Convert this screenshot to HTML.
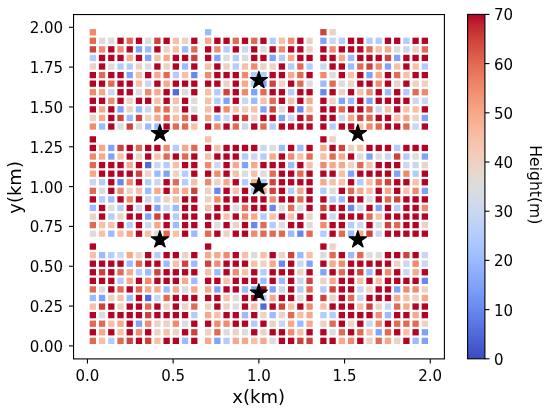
<!DOCTYPE html>
<html><head><meta charset="utf-8"><style>
html,body{margin:0;padding:0;background:#fff;}
svg{display:block;}
text{font-family:"DejaVu Sans","Liberation Sans",sans-serif;font-size:15px;fill:#000;}
</style></head><body>
<svg width="550" height="411" viewBox="0 0 550 411">
<defs><linearGradient id="cb" x1="0" y1="0" x2="0" y2="1"><stop offset="0.0000" stop-color="#b40426"/><stop offset="0.0143" stop-color="#b8122a"/><stop offset="0.0286" stop-color="#be242e"/><stop offset="0.0429" stop-color="#c32e31"/><stop offset="0.0571" stop-color="#c83836"/><stop offset="0.0714" stop-color="#cd423b"/><stop offset="0.0857" stop-color="#d1493f"/><stop offset="0.1000" stop-color="#d65244"/><stop offset="0.1143" stop-color="#da5a49"/><stop offset="0.1286" stop-color="#de614d"/><stop offset="0.1429" stop-color="#e26952"/><stop offset="0.1571" stop-color="#e57058"/><stop offset="0.1714" stop-color="#e8765c"/><stop offset="0.1857" stop-color="#eb7d62"/><stop offset="0.2000" stop-color="#ee8468"/><stop offset="0.2143" stop-color="#f08a6c"/><stop offset="0.2286" stop-color="#f29072"/><stop offset="0.2429" stop-color="#f39778"/><stop offset="0.2571" stop-color="#f59c7d"/><stop offset="0.2714" stop-color="#f6a283"/><stop offset="0.2857" stop-color="#f7a889"/><stop offset="0.3000" stop-color="#f7ac8e"/><stop offset="0.3143" stop-color="#f7b194"/><stop offset="0.3286" stop-color="#f7b79b"/><stop offset="0.3429" stop-color="#f7ba9f"/><stop offset="0.3571" stop-color="#f6bfa6"/><stop offset="0.3714" stop-color="#f5c4ac"/><stop offset="0.3857" stop-color="#f3c7b1"/><stop offset="0.4000" stop-color="#f2cbb7"/><stop offset="0.4143" stop-color="#efcebd"/><stop offset="0.4286" stop-color="#edd1c2"/><stop offset="0.4429" stop-color="#ead4c8"/><stop offset="0.4571" stop-color="#e7d7ce"/><stop offset="0.4714" stop-color="#e4d9d2"/><stop offset="0.4857" stop-color="#e0dbd8"/><stop offset="0.5000" stop-color="#dddcdc"/><stop offset="0.5143" stop-color="#d9dce1"/><stop offset="0.5286" stop-color="#d5dbe5"/><stop offset="0.5429" stop-color="#d2dbe8"/><stop offset="0.5571" stop-color="#cdd9ec"/><stop offset="0.5714" stop-color="#c9d7f0"/><stop offset="0.5857" stop-color="#c5d6f2"/><stop offset="0.6000" stop-color="#c0d4f5"/><stop offset="0.6143" stop-color="#bbd1f8"/><stop offset="0.6286" stop-color="#b7cff9"/><stop offset="0.6429" stop-color="#b2ccfb"/><stop offset="0.6571" stop-color="#adc9fd"/><stop offset="0.6714" stop-color="#a9c6fd"/><stop offset="0.6857" stop-color="#a3c2fe"/><stop offset="0.7000" stop-color="#9ebeff"/><stop offset="0.7143" stop-color="#9abbff"/><stop offset="0.7286" stop-color="#94b6ff"/><stop offset="0.7429" stop-color="#8fb1fe"/><stop offset="0.7571" stop-color="#8badfd"/><stop offset="0.7714" stop-color="#85a8fc"/><stop offset="0.7857" stop-color="#80a3fa"/><stop offset="0.8000" stop-color="#7b9ff9"/><stop offset="0.8143" stop-color="#7699f6"/><stop offset="0.8286" stop-color="#7093f3"/><stop offset="0.8429" stop-color="#6c8ff1"/><stop offset="0.8571" stop-color="#6788ee"/><stop offset="0.8714" stop-color="#6282ea"/><stop offset="0.8857" stop-color="#5e7de7"/><stop offset="0.9000" stop-color="#5977e3"/><stop offset="0.9143" stop-color="#5470de"/><stop offset="0.9286" stop-color="#506bda"/><stop offset="0.9429" stop-color="#4b64d5"/><stop offset="0.9571" stop-color="#465ecf"/><stop offset="0.9714" stop-color="#4358cb"/><stop offset="0.9857" stop-color="#3e51c5"/><stop offset="1.0000" stop-color="#3b4cc0"/></linearGradient></defs>
<rect x="0" y="0" width="550" height="411" fill="#fff"/>
<g><rect x="89.70" y="243.40" width="6.3" height="6.3" fill="#b40426"/><rect x="89.70" y="251.97" width="6.3" height="6.3" fill="#f6bfa6"/><rect x="98.92" y="251.97" width="6.3" height="6.3" fill="#9abbff"/><rect x="108.14" y="251.97" width="6.3" height="6.3" fill="#b2ccfb"/><rect x="117.37" y="251.97" width="6.3" height="6.3" fill="#c9d7f0"/><rect x="126.59" y="251.97" width="6.3" height="6.3" fill="#f7a889"/><rect x="135.81" y="251.97" width="6.3" height="6.3" fill="#edd1c2"/><rect x="145.03" y="251.97" width="6.3" height="6.3" fill="#b40426"/><rect x="154.25" y="251.97" width="6.3" height="6.3" fill="#b2ccfb"/><rect x="163.48" y="251.97" width="6.3" height="6.3" fill="#b40426"/><rect x="172.70" y="251.97" width="6.3" height="6.3" fill="#b40426"/><rect x="181.92" y="251.97" width="6.3" height="6.3" fill="#edd1c2"/><rect x="191.14" y="251.97" width="6.3" height="6.3" fill="#b40426"/><rect x="89.70" y="260.54" width="6.3" height="6.3" fill="#b40426"/><rect x="98.92" y="260.54" width="6.3" height="6.3" fill="#b40426"/><rect x="108.14" y="260.54" width="6.3" height="6.3" fill="#b40426"/><rect x="117.37" y="260.54" width="6.3" height="6.3" fill="#b40426"/><rect x="126.59" y="260.54" width="6.3" height="6.3" fill="#9abbff"/><rect x="135.81" y="260.54" width="6.3" height="6.3" fill="#e26952"/><rect x="145.03" y="260.54" width="6.3" height="6.3" fill="#b40426"/><rect x="154.25" y="260.54" width="6.3" height="6.3" fill="#b40426"/><rect x="163.48" y="260.54" width="6.3" height="6.3" fill="#9abbff"/><rect x="172.70" y="260.54" width="6.3" height="6.3" fill="#f6bfa6"/><rect x="181.92" y="260.54" width="6.3" height="6.3" fill="#cd423b"/><rect x="191.14" y="260.54" width="6.3" height="6.3" fill="#9abbff"/><rect x="89.70" y="269.12" width="6.3" height="6.3" fill="#b40426"/><rect x="98.92" y="269.12" width="6.3" height="6.3" fill="#cd423b"/><rect x="108.14" y="269.12" width="6.3" height="6.3" fill="#b40426"/><rect x="117.37" y="269.12" width="6.3" height="6.3" fill="#e26952"/><rect x="126.59" y="269.12" width="6.3" height="6.3" fill="#f7a889"/><rect x="135.81" y="269.12" width="6.3" height="6.3" fill="#b2ccfb"/><rect x="145.03" y="269.12" width="6.3" height="6.3" fill="#9abbff"/><rect x="154.25" y="269.12" width="6.3" height="6.3" fill="#cd423b"/><rect x="163.48" y="269.12" width="6.3" height="6.3" fill="#b40426"/><rect x="172.70" y="269.12" width="6.3" height="6.3" fill="#b40426"/><rect x="181.92" y="269.12" width="6.3" height="6.3" fill="#b40426"/><rect x="191.14" y="269.12" width="6.3" height="6.3" fill="#b40426"/><rect x="89.70" y="277.69" width="6.3" height="6.3" fill="#b40426"/><rect x="98.92" y="277.69" width="6.3" height="6.3" fill="#b40426"/><rect x="108.14" y="277.69" width="6.3" height="6.3" fill="#b40426"/><rect x="117.37" y="277.69" width="6.3" height="6.3" fill="#b2ccfb"/><rect x="126.59" y="277.69" width="6.3" height="6.3" fill="#f7a889"/><rect x="135.81" y="277.69" width="6.3" height="6.3" fill="#b40426"/><rect x="145.03" y="277.69" width="6.3" height="6.3" fill="#f08a6c"/><rect x="154.25" y="277.69" width="6.3" height="6.3" fill="#b40426"/><rect x="163.48" y="277.69" width="6.3" height="6.3" fill="#b40426"/><rect x="172.70" y="277.69" width="6.3" height="6.3" fill="#b40426"/><rect x="181.92" y="277.69" width="6.3" height="6.3" fill="#f7a889"/><rect x="191.14" y="277.69" width="6.3" height="6.3" fill="#9abbff"/><rect x="89.70" y="286.26" width="6.3" height="6.3" fill="#e26952"/><rect x="98.92" y="286.26" width="6.3" height="6.3" fill="#dddcdc"/><rect x="108.14" y="286.26" width="6.3" height="6.3" fill="#b40426"/><rect x="117.37" y="286.26" width="6.3" height="6.3" fill="#e26952"/><rect x="126.59" y="286.26" width="6.3" height="6.3" fill="#b40426"/><rect x="135.81" y="286.26" width="6.3" height="6.3" fill="#e26952"/><rect x="145.03" y="286.26" width="6.3" height="6.3" fill="#f7a889"/><rect x="154.25" y="286.26" width="6.3" height="6.3" fill="#f7a889"/><rect x="163.48" y="286.26" width="6.3" height="6.3" fill="#9abbff"/><rect x="172.70" y="286.26" width="6.3" height="6.3" fill="#f7a889"/><rect x="181.92" y="286.26" width="6.3" height="6.3" fill="#dddcdc"/><rect x="191.14" y="286.26" width="6.3" height="6.3" fill="#f7a889"/><rect x="89.70" y="294.84" width="6.3" height="6.3" fill="#9abbff"/><rect x="98.92" y="294.84" width="6.3" height="6.3" fill="#80a3fa"/><rect x="108.14" y="294.84" width="6.3" height="6.3" fill="#edd1c2"/><rect x="117.37" y="294.84" width="6.3" height="6.3" fill="#f6bfa6"/><rect x="126.59" y="294.84" width="6.3" height="6.3" fill="#9abbff"/><rect x="135.81" y="294.84" width="6.3" height="6.3" fill="#b40426"/><rect x="145.03" y="294.84" width="6.3" height="6.3" fill="#506bda"/><rect x="154.25" y="294.84" width="6.3" height="6.3" fill="#c9d7f0"/><rect x="163.48" y="294.84" width="6.3" height="6.3" fill="#e26952"/><rect x="172.70" y="294.84" width="6.3" height="6.3" fill="#b40426"/><rect x="181.92" y="294.84" width="6.3" height="6.3" fill="#b40426"/><rect x="191.14" y="294.84" width="6.3" height="6.3" fill="#b40426"/><rect x="89.70" y="303.41" width="6.3" height="6.3" fill="#f6bfa6"/><rect x="98.92" y="303.41" width="6.3" height="6.3" fill="#cd423b"/><rect x="108.14" y="303.41" width="6.3" height="6.3" fill="#b40426"/><rect x="117.37" y="303.41" width="6.3" height="6.3" fill="#edd1c2"/><rect x="126.59" y="303.41" width="6.3" height="6.3" fill="#b40426"/><rect x="135.81" y="303.41" width="6.3" height="6.3" fill="#b40426"/><rect x="145.03" y="303.41" width="6.3" height="6.3" fill="#e26952"/><rect x="154.25" y="303.41" width="6.3" height="6.3" fill="#b40426"/><rect x="163.48" y="303.41" width="6.3" height="6.3" fill="#edd1c2"/><rect x="172.70" y="303.41" width="6.3" height="6.3" fill="#b40426"/><rect x="181.92" y="303.41" width="6.3" height="6.3" fill="#edd1c2"/><rect x="191.14" y="303.41" width="6.3" height="6.3" fill="#e26952"/><rect x="89.70" y="311.98" width="6.3" height="6.3" fill="#b40426"/><rect x="98.92" y="311.98" width="6.3" height="6.3" fill="#dddcdc"/><rect x="108.14" y="311.98" width="6.3" height="6.3" fill="#b40426"/><rect x="117.37" y="311.98" width="6.3" height="6.3" fill="#b40426"/><rect x="126.59" y="311.98" width="6.3" height="6.3" fill="#b40426"/><rect x="135.81" y="311.98" width="6.3" height="6.3" fill="#b40426"/><rect x="145.03" y="311.98" width="6.3" height="6.3" fill="#cd423b"/><rect x="154.25" y="311.98" width="6.3" height="6.3" fill="#b40426"/><rect x="163.48" y="311.98" width="6.3" height="6.3" fill="#b40426"/><rect x="172.70" y="311.98" width="6.3" height="6.3" fill="#b40426"/><rect x="181.92" y="311.98" width="6.3" height="6.3" fill="#b40426"/><rect x="191.14" y="311.98" width="6.3" height="6.3" fill="#b2ccfb"/><rect x="89.70" y="320.55" width="6.3" height="6.3" fill="#e26952"/><rect x="98.92" y="320.55" width="6.3" height="6.3" fill="#e26952"/><rect x="108.14" y="320.55" width="6.3" height="6.3" fill="#f6bfa6"/><rect x="117.37" y="320.55" width="6.3" height="6.3" fill="#f7a889"/><rect x="126.59" y="320.55" width="6.3" height="6.3" fill="#b40426"/><rect x="135.81" y="320.55" width="6.3" height="6.3" fill="#80a3fa"/><rect x="145.03" y="320.55" width="6.3" height="6.3" fill="#f08a6c"/><rect x="154.25" y="320.55" width="6.3" height="6.3" fill="#edd1c2"/><rect x="163.48" y="320.55" width="6.3" height="6.3" fill="#edd1c2"/><rect x="172.70" y="320.55" width="6.3" height="6.3" fill="#f08a6c"/><rect x="181.92" y="320.55" width="6.3" height="6.3" fill="#dddcdc"/><rect x="191.14" y="320.55" width="6.3" height="6.3" fill="#b40426"/><rect x="89.70" y="329.13" width="6.3" height="6.3" fill="#b40426"/><rect x="98.92" y="329.13" width="6.3" height="6.3" fill="#f7a889"/><rect x="108.14" y="329.13" width="6.3" height="6.3" fill="#b40426"/><rect x="117.37" y="329.13" width="6.3" height="6.3" fill="#f6bfa6"/><rect x="126.59" y="329.13" width="6.3" height="6.3" fill="#b40426"/><rect x="135.81" y="329.13" width="6.3" height="6.3" fill="#f08a6c"/><rect x="145.03" y="329.13" width="6.3" height="6.3" fill="#b40426"/><rect x="154.25" y="329.13" width="6.3" height="6.3" fill="#edd1c2"/><rect x="163.48" y="329.13" width="6.3" height="6.3" fill="#f6bfa6"/><rect x="172.70" y="329.13" width="6.3" height="6.3" fill="#edd1c2"/><rect x="181.92" y="329.13" width="6.3" height="6.3" fill="#b40426"/><rect x="191.14" y="329.13" width="6.3" height="6.3" fill="#cd423b"/><rect x="89.70" y="337.70" width="6.3" height="6.3" fill="#e26952"/><rect x="98.92" y="337.70" width="6.3" height="6.3" fill="#f6bfa6"/><rect x="108.14" y="337.70" width="6.3" height="6.3" fill="#b2ccfb"/><rect x="117.37" y="337.70" width="6.3" height="6.3" fill="#e26952"/><rect x="126.59" y="337.70" width="6.3" height="6.3" fill="#cd423b"/><rect x="135.81" y="337.70" width="6.3" height="6.3" fill="#b40426"/><rect x="145.03" y="337.70" width="6.3" height="6.3" fill="#cd423b"/><rect x="154.25" y="337.70" width="6.3" height="6.3" fill="#f6bfa6"/><rect x="163.48" y="337.70" width="6.3" height="6.3" fill="#b40426"/><rect x="172.70" y="337.70" width="6.3" height="6.3" fill="#b40426"/><rect x="181.92" y="337.70" width="6.3" height="6.3" fill="#9abbff"/><rect x="191.14" y="337.70" width="6.3" height="6.3" fill="#b40426"/><rect x="204.97" y="243.40" width="6.3" height="6.3" fill="#b40426"/><rect x="204.97" y="251.97" width="6.3" height="6.3" fill="#f7a889"/><rect x="214.20" y="251.97" width="6.3" height="6.3" fill="#f7a889"/><rect x="223.42" y="251.97" width="6.3" height="6.3" fill="#f08a6c"/><rect x="232.64" y="251.97" width="6.3" height="6.3" fill="#b40426"/><rect x="241.86" y="251.97" width="6.3" height="6.3" fill="#f6bfa6"/><rect x="251.08" y="251.97" width="6.3" height="6.3" fill="#dddcdc"/><rect x="260.31" y="251.97" width="6.3" height="6.3" fill="#f6bfa6"/><rect x="269.53" y="251.97" width="6.3" height="6.3" fill="#b40426"/><rect x="278.75" y="251.97" width="6.3" height="6.3" fill="#edd1c2"/><rect x="287.97" y="251.97" width="6.3" height="6.3" fill="#cd423b"/><rect x="297.19" y="251.97" width="6.3" height="6.3" fill="#9abbff"/><rect x="306.42" y="251.97" width="6.3" height="6.3" fill="#f6bfa6"/><rect x="204.97" y="260.54" width="6.3" height="6.3" fill="#cd423b"/><rect x="214.20" y="260.54" width="6.3" height="6.3" fill="#f08a6c"/><rect x="223.42" y="260.54" width="6.3" height="6.3" fill="#b40426"/><rect x="232.64" y="260.54" width="6.3" height="6.3" fill="#b40426"/><rect x="241.86" y="260.54" width="6.3" height="6.3" fill="#b40426"/><rect x="251.08" y="260.54" width="6.3" height="6.3" fill="#f6bfa6"/><rect x="260.31" y="260.54" width="6.3" height="6.3" fill="#edd1c2"/><rect x="269.53" y="260.54" width="6.3" height="6.3" fill="#f7a889"/><rect x="278.75" y="260.54" width="6.3" height="6.3" fill="#6788ee"/><rect x="287.97" y="260.54" width="6.3" height="6.3" fill="#b40426"/><rect x="297.19" y="260.54" width="6.3" height="6.3" fill="#c9d7f0"/><rect x="306.42" y="260.54" width="6.3" height="6.3" fill="#80a3fa"/><rect x="204.97" y="269.12" width="6.3" height="6.3" fill="#f6bfa6"/><rect x="214.20" y="269.12" width="6.3" height="6.3" fill="#9abbff"/><rect x="223.42" y="269.12" width="6.3" height="6.3" fill="#b40426"/><rect x="232.64" y="269.12" width="6.3" height="6.3" fill="#f08a6c"/><rect x="241.86" y="269.12" width="6.3" height="6.3" fill="#f6bfa6"/><rect x="251.08" y="269.12" width="6.3" height="6.3" fill="#b40426"/><rect x="260.31" y="269.12" width="6.3" height="6.3" fill="#b2ccfb"/><rect x="269.53" y="269.12" width="6.3" height="6.3" fill="#b40426"/><rect x="278.75" y="269.12" width="6.3" height="6.3" fill="#b40426"/><rect x="287.97" y="269.12" width="6.3" height="6.3" fill="#b40426"/><rect x="297.19" y="269.12" width="6.3" height="6.3" fill="#edd1c2"/><rect x="306.42" y="269.12" width="6.3" height="6.3" fill="#b40426"/><rect x="204.97" y="277.69" width="6.3" height="6.3" fill="#b40426"/><rect x="214.20" y="277.69" width="6.3" height="6.3" fill="#b40426"/><rect x="223.42" y="277.69" width="6.3" height="6.3" fill="#f6bfa6"/><rect x="232.64" y="277.69" width="6.3" height="6.3" fill="#b40426"/><rect x="241.86" y="277.69" width="6.3" height="6.3" fill="#b40426"/><rect x="251.08" y="277.69" width="6.3" height="6.3" fill="#b40426"/><rect x="260.31" y="277.69" width="6.3" height="6.3" fill="#9abbff"/><rect x="269.53" y="277.69" width="6.3" height="6.3" fill="#b40426"/><rect x="278.75" y="277.69" width="6.3" height="6.3" fill="#9abbff"/><rect x="287.97" y="277.69" width="6.3" height="6.3" fill="#b40426"/><rect x="297.19" y="277.69" width="6.3" height="6.3" fill="#c9d7f0"/><rect x="306.42" y="277.69" width="6.3" height="6.3" fill="#cd423b"/><rect x="204.97" y="286.26" width="6.3" height="6.3" fill="#f7a889"/><rect x="214.20" y="286.26" width="6.3" height="6.3" fill="#80a3fa"/><rect x="223.42" y="286.26" width="6.3" height="6.3" fill="#b40426"/><rect x="232.64" y="286.26" width="6.3" height="6.3" fill="#b40426"/><rect x="241.86" y="286.26" width="6.3" height="6.3" fill="#9abbff"/><rect x="251.08" y="286.26" width="6.3" height="6.3" fill="#80a3fa"/><rect x="260.31" y="286.26" width="6.3" height="6.3" fill="#b40426"/><rect x="269.53" y="286.26" width="6.3" height="6.3" fill="#80a3fa"/><rect x="278.75" y="286.26" width="6.3" height="6.3" fill="#c9d7f0"/><rect x="287.97" y="286.26" width="6.3" height="6.3" fill="#b40426"/><rect x="297.19" y="286.26" width="6.3" height="6.3" fill="#b2ccfb"/><rect x="306.42" y="286.26" width="6.3" height="6.3" fill="#e26952"/><rect x="204.97" y="294.84" width="6.3" height="6.3" fill="#b40426"/><rect x="214.20" y="294.84" width="6.3" height="6.3" fill="#b40426"/><rect x="223.42" y="294.84" width="6.3" height="6.3" fill="#f6bfa6"/><rect x="232.64" y="294.84" width="6.3" height="6.3" fill="#dddcdc"/><rect x="241.86" y="294.84" width="6.3" height="6.3" fill="#b40426"/><rect x="251.08" y="294.84" width="6.3" height="6.3" fill="#b40426"/><rect x="260.31" y="294.84" width="6.3" height="6.3" fill="#b2ccfb"/><rect x="269.53" y="294.84" width="6.3" height="6.3" fill="#f7a889"/><rect x="278.75" y="294.84" width="6.3" height="6.3" fill="#b40426"/><rect x="287.97" y="294.84" width="6.3" height="6.3" fill="#b40426"/><rect x="297.19" y="294.84" width="6.3" height="6.3" fill="#dddcdc"/><rect x="306.42" y="294.84" width="6.3" height="6.3" fill="#b40426"/><rect x="204.97" y="303.41" width="6.3" height="6.3" fill="#edd1c2"/><rect x="214.20" y="303.41" width="6.3" height="6.3" fill="#b40426"/><rect x="223.42" y="303.41" width="6.3" height="6.3" fill="#edd1c2"/><rect x="232.64" y="303.41" width="6.3" height="6.3" fill="#dddcdc"/><rect x="241.86" y="303.41" width="6.3" height="6.3" fill="#b40426"/><rect x="251.08" y="303.41" width="6.3" height="6.3" fill="#f6bfa6"/><rect x="260.31" y="303.41" width="6.3" height="6.3" fill="#506bda"/><rect x="269.53" y="303.41" width="6.3" height="6.3" fill="#b40426"/><rect x="278.75" y="303.41" width="6.3" height="6.3" fill="#cd423b"/><rect x="287.97" y="303.41" width="6.3" height="6.3" fill="#f6bfa6"/><rect x="297.19" y="303.41" width="6.3" height="6.3" fill="#b40426"/><rect x="306.42" y="303.41" width="6.3" height="6.3" fill="#f08a6c"/><rect x="204.97" y="311.98" width="6.3" height="6.3" fill="#f7a889"/><rect x="214.20" y="311.98" width="6.3" height="6.3" fill="#f6bfa6"/><rect x="223.42" y="311.98" width="6.3" height="6.3" fill="#b40426"/><rect x="232.64" y="311.98" width="6.3" height="6.3" fill="#b40426"/><rect x="241.86" y="311.98" width="6.3" height="6.3" fill="#9abbff"/><rect x="251.08" y="311.98" width="6.3" height="6.3" fill="#b40426"/><rect x="260.31" y="311.98" width="6.3" height="6.3" fill="#edd1c2"/><rect x="269.53" y="311.98" width="6.3" height="6.3" fill="#9abbff"/><rect x="278.75" y="311.98" width="6.3" height="6.3" fill="#edd1c2"/><rect x="287.97" y="311.98" width="6.3" height="6.3" fill="#e26952"/><rect x="297.19" y="311.98" width="6.3" height="6.3" fill="#f6bfa6"/><rect x="306.42" y="311.98" width="6.3" height="6.3" fill="#f7a889"/><rect x="204.97" y="320.55" width="6.3" height="6.3" fill="#b40426"/><rect x="214.20" y="320.55" width="6.3" height="6.3" fill="#f08a6c"/><rect x="223.42" y="320.55" width="6.3" height="6.3" fill="#f08a6c"/><rect x="232.64" y="320.55" width="6.3" height="6.3" fill="#b40426"/><rect x="241.86" y="320.55" width="6.3" height="6.3" fill="#b40426"/><rect x="251.08" y="320.55" width="6.3" height="6.3" fill="#b2ccfb"/><rect x="260.31" y="320.55" width="6.3" height="6.3" fill="#b40426"/><rect x="269.53" y="320.55" width="6.3" height="6.3" fill="#edd1c2"/><rect x="278.75" y="320.55" width="6.3" height="6.3" fill="#c9d7f0"/><rect x="287.97" y="320.55" width="6.3" height="6.3" fill="#f7a889"/><rect x="297.19" y="320.55" width="6.3" height="6.3" fill="#9abbff"/><rect x="306.42" y="320.55" width="6.3" height="6.3" fill="#f7a889"/><rect x="204.97" y="329.13" width="6.3" height="6.3" fill="#edd1c2"/><rect x="214.20" y="329.13" width="6.3" height="6.3" fill="#e26952"/><rect x="223.42" y="329.13" width="6.3" height="6.3" fill="#dddcdc"/><rect x="232.64" y="329.13" width="6.3" height="6.3" fill="#edd1c2"/><rect x="241.86" y="329.13" width="6.3" height="6.3" fill="#dddcdc"/><rect x="251.08" y="329.13" width="6.3" height="6.3" fill="#b40426"/><rect x="260.31" y="329.13" width="6.3" height="6.3" fill="#edd1c2"/><rect x="269.53" y="329.13" width="6.3" height="6.3" fill="#b40426"/><rect x="278.75" y="329.13" width="6.3" height="6.3" fill="#b40426"/><rect x="287.97" y="329.13" width="6.3" height="6.3" fill="#f08a6c"/><rect x="297.19" y="329.13" width="6.3" height="6.3" fill="#f6bfa6"/><rect x="306.42" y="329.13" width="6.3" height="6.3" fill="#b40426"/><rect x="204.97" y="337.70" width="6.3" height="6.3" fill="#f7a889"/><rect x="214.20" y="337.70" width="6.3" height="6.3" fill="#80a3fa"/><rect x="223.42" y="337.70" width="6.3" height="6.3" fill="#b2ccfb"/><rect x="232.64" y="337.70" width="6.3" height="6.3" fill="#f7a889"/><rect x="241.86" y="337.70" width="6.3" height="6.3" fill="#f7a889"/><rect x="251.08" y="337.70" width="6.3" height="6.3" fill="#f6bfa6"/><rect x="260.31" y="337.70" width="6.3" height="6.3" fill="#f7a889"/><rect x="269.53" y="337.70" width="6.3" height="6.3" fill="#dddcdc"/><rect x="278.75" y="337.70" width="6.3" height="6.3" fill="#b40426"/><rect x="287.97" y="337.70" width="6.3" height="6.3" fill="#b40426"/><rect x="297.19" y="337.70" width="6.3" height="6.3" fill="#cd423b"/><rect x="306.42" y="337.70" width="6.3" height="6.3" fill="#cd423b"/><rect x="320.25" y="243.40" width="6.3" height="6.3" fill="#b40426"/><rect x="329.47" y="243.40" width="6.3" height="6.3" fill="#edd1c2"/><rect x="320.25" y="251.97" width="6.3" height="6.3" fill="#dddcdc"/><rect x="329.47" y="251.97" width="6.3" height="6.3" fill="#e26952"/><rect x="338.69" y="251.97" width="6.3" height="6.3" fill="#b40426"/><rect x="347.92" y="251.97" width="6.3" height="6.3" fill="#9abbff"/><rect x="357.14" y="251.97" width="6.3" height="6.3" fill="#e26952"/><rect x="366.36" y="251.97" width="6.3" height="6.3" fill="#dddcdc"/><rect x="375.58" y="251.97" width="6.3" height="6.3" fill="#dddcdc"/><rect x="384.80" y="251.97" width="6.3" height="6.3" fill="#b40426"/><rect x="394.03" y="251.97" width="6.3" height="6.3" fill="#b40426"/><rect x="403.25" y="251.97" width="6.3" height="6.3" fill="#cd423b"/><rect x="412.47" y="251.97" width="6.3" height="6.3" fill="#b40426"/><rect x="421.69" y="251.97" width="6.3" height="6.3" fill="#c9d7f0"/><rect x="320.25" y="260.54" width="6.3" height="6.3" fill="#b40426"/><rect x="329.47" y="260.54" width="6.3" height="6.3" fill="#f7a889"/><rect x="338.69" y="260.54" width="6.3" height="6.3" fill="#f08a6c"/><rect x="347.92" y="260.54" width="6.3" height="6.3" fill="#b40426"/><rect x="357.14" y="260.54" width="6.3" height="6.3" fill="#b40426"/><rect x="366.36" y="260.54" width="6.3" height="6.3" fill="#b40426"/><rect x="375.58" y="260.54" width="6.3" height="6.3" fill="#b40426"/><rect x="384.80" y="260.54" width="6.3" height="6.3" fill="#b40426"/><rect x="394.03" y="260.54" width="6.3" height="6.3" fill="#edd1c2"/><rect x="403.25" y="260.54" width="6.3" height="6.3" fill="#c9d7f0"/><rect x="412.47" y="260.54" width="6.3" height="6.3" fill="#f08a6c"/><rect x="421.69" y="260.54" width="6.3" height="6.3" fill="#c9d7f0"/><rect x="320.25" y="269.12" width="6.3" height="6.3" fill="#80a3fa"/><rect x="329.47" y="269.12" width="6.3" height="6.3" fill="#b40426"/><rect x="338.69" y="269.12" width="6.3" height="6.3" fill="#e26952"/><rect x="347.92" y="269.12" width="6.3" height="6.3" fill="#b40426"/><rect x="357.14" y="269.12" width="6.3" height="6.3" fill="#cd423b"/><rect x="366.36" y="269.12" width="6.3" height="6.3" fill="#9abbff"/><rect x="375.58" y="269.12" width="6.3" height="6.3" fill="#b40426"/><rect x="384.80" y="269.12" width="6.3" height="6.3" fill="#f08a6c"/><rect x="394.03" y="269.12" width="6.3" height="6.3" fill="#b40426"/><rect x="403.25" y="269.12" width="6.3" height="6.3" fill="#c9d7f0"/><rect x="412.47" y="269.12" width="6.3" height="6.3" fill="#f7a889"/><rect x="421.69" y="269.12" width="6.3" height="6.3" fill="#b40426"/><rect x="320.25" y="277.69" width="6.3" height="6.3" fill="#edd1c2"/><rect x="329.47" y="277.69" width="6.3" height="6.3" fill="#f7a889"/><rect x="338.69" y="277.69" width="6.3" height="6.3" fill="#b40426"/><rect x="347.92" y="277.69" width="6.3" height="6.3" fill="#b40426"/><rect x="357.14" y="277.69" width="6.3" height="6.3" fill="#f6bfa6"/><rect x="366.36" y="277.69" width="6.3" height="6.3" fill="#b40426"/><rect x="375.58" y="277.69" width="6.3" height="6.3" fill="#f6bfa6"/><rect x="384.80" y="277.69" width="6.3" height="6.3" fill="#b40426"/><rect x="394.03" y="277.69" width="6.3" height="6.3" fill="#b40426"/><rect x="403.25" y="277.69" width="6.3" height="6.3" fill="#b40426"/><rect x="412.47" y="277.69" width="6.3" height="6.3" fill="#b40426"/><rect x="421.69" y="277.69" width="6.3" height="6.3" fill="#6788ee"/><rect x="320.25" y="286.26" width="6.3" height="6.3" fill="#b2ccfb"/><rect x="329.47" y="286.26" width="6.3" height="6.3" fill="#cd423b"/><rect x="338.69" y="286.26" width="6.3" height="6.3" fill="#b40426"/><rect x="347.92" y="286.26" width="6.3" height="6.3" fill="#b40426"/><rect x="357.14" y="286.26" width="6.3" height="6.3" fill="#c9d7f0"/><rect x="366.36" y="286.26" width="6.3" height="6.3" fill="#edd1c2"/><rect x="375.58" y="286.26" width="6.3" height="6.3" fill="#b40426"/><rect x="384.80" y="286.26" width="6.3" height="6.3" fill="#b40426"/><rect x="394.03" y="286.26" width="6.3" height="6.3" fill="#80a3fa"/><rect x="403.25" y="286.26" width="6.3" height="6.3" fill="#f08a6c"/><rect x="412.47" y="286.26" width="6.3" height="6.3" fill="#f08a6c"/><rect x="421.69" y="286.26" width="6.3" height="6.3" fill="#edd1c2"/><rect x="320.25" y="294.84" width="6.3" height="6.3" fill="#cd423b"/><rect x="329.47" y="294.84" width="6.3" height="6.3" fill="#edd1c2"/><rect x="338.69" y="294.84" width="6.3" height="6.3" fill="#b40426"/><rect x="347.92" y="294.84" width="6.3" height="6.3" fill="#e26952"/><rect x="357.14" y="294.84" width="6.3" height="6.3" fill="#c9d7f0"/><rect x="366.36" y="294.84" width="6.3" height="6.3" fill="#b40426"/><rect x="375.58" y="294.84" width="6.3" height="6.3" fill="#b40426"/><rect x="384.80" y="294.84" width="6.3" height="6.3" fill="#b40426"/><rect x="394.03" y="294.84" width="6.3" height="6.3" fill="#f7a889"/><rect x="403.25" y="294.84" width="6.3" height="6.3" fill="#f6bfa6"/><rect x="412.47" y="294.84" width="6.3" height="6.3" fill="#edd1c2"/><rect x="421.69" y="294.84" width="6.3" height="6.3" fill="#f7a889"/><rect x="320.25" y="303.41" width="6.3" height="6.3" fill="#f6bfa6"/><rect x="329.47" y="303.41" width="6.3" height="6.3" fill="#b40426"/><rect x="338.69" y="303.41" width="6.3" height="6.3" fill="#b40426"/><rect x="347.92" y="303.41" width="6.3" height="6.3" fill="#b40426"/><rect x="357.14" y="303.41" width="6.3" height="6.3" fill="#f6bfa6"/><rect x="366.36" y="303.41" width="6.3" height="6.3" fill="#cd423b"/><rect x="375.58" y="303.41" width="6.3" height="6.3" fill="#edd1c2"/><rect x="384.80" y="303.41" width="6.3" height="6.3" fill="#c9d7f0"/><rect x="394.03" y="303.41" width="6.3" height="6.3" fill="#e26952"/><rect x="403.25" y="303.41" width="6.3" height="6.3" fill="#f7a889"/><rect x="412.47" y="303.41" width="6.3" height="6.3" fill="#b40426"/><rect x="421.69" y="303.41" width="6.3" height="6.3" fill="#b40426"/><rect x="320.25" y="311.98" width="6.3" height="6.3" fill="#b2ccfb"/><rect x="329.47" y="311.98" width="6.3" height="6.3" fill="#b2ccfb"/><rect x="338.69" y="311.98" width="6.3" height="6.3" fill="#b40426"/><rect x="347.92" y="311.98" width="6.3" height="6.3" fill="#b40426"/><rect x="357.14" y="311.98" width="6.3" height="6.3" fill="#b40426"/><rect x="366.36" y="311.98" width="6.3" height="6.3" fill="#b40426"/><rect x="375.58" y="311.98" width="6.3" height="6.3" fill="#f08a6c"/><rect x="384.80" y="311.98" width="6.3" height="6.3" fill="#9abbff"/><rect x="394.03" y="311.98" width="6.3" height="6.3" fill="#b40426"/><rect x="403.25" y="311.98" width="6.3" height="6.3" fill="#b40426"/><rect x="412.47" y="311.98" width="6.3" height="6.3" fill="#f7a889"/><rect x="421.69" y="311.98" width="6.3" height="6.3" fill="#b40426"/><rect x="320.25" y="320.55" width="6.3" height="6.3" fill="#edd1c2"/><rect x="329.47" y="320.55" width="6.3" height="6.3" fill="#e26952"/><rect x="338.69" y="320.55" width="6.3" height="6.3" fill="#b40426"/><rect x="347.92" y="320.55" width="6.3" height="6.3" fill="#edd1c2"/><rect x="357.14" y="320.55" width="6.3" height="6.3" fill="#b40426"/><rect x="366.36" y="320.55" width="6.3" height="6.3" fill="#c9d7f0"/><rect x="375.58" y="320.55" width="6.3" height="6.3" fill="#f08a6c"/><rect x="384.80" y="320.55" width="6.3" height="6.3" fill="#b40426"/><rect x="394.03" y="320.55" width="6.3" height="6.3" fill="#e26952"/><rect x="403.25" y="320.55" width="6.3" height="6.3" fill="#e26952"/><rect x="412.47" y="320.55" width="6.3" height="6.3" fill="#e26952"/><rect x="421.69" y="320.55" width="6.3" height="6.3" fill="#edd1c2"/><rect x="320.25" y="329.13" width="6.3" height="6.3" fill="#b40426"/><rect x="329.47" y="329.13" width="6.3" height="6.3" fill="#dddcdc"/><rect x="338.69" y="329.13" width="6.3" height="6.3" fill="#e26952"/><rect x="347.92" y="329.13" width="6.3" height="6.3" fill="#b40426"/><rect x="357.14" y="329.13" width="6.3" height="6.3" fill="#e26952"/><rect x="366.36" y="329.13" width="6.3" height="6.3" fill="#f6bfa6"/><rect x="375.58" y="329.13" width="6.3" height="6.3" fill="#80a3fa"/><rect x="384.80" y="329.13" width="6.3" height="6.3" fill="#e26952"/><rect x="394.03" y="329.13" width="6.3" height="6.3" fill="#b40426"/><rect x="403.25" y="329.13" width="6.3" height="6.3" fill="#f6bfa6"/><rect x="412.47" y="329.13" width="6.3" height="6.3" fill="#b40426"/><rect x="421.69" y="329.13" width="6.3" height="6.3" fill="#80a3fa"/><rect x="320.25" y="337.70" width="6.3" height="6.3" fill="#b40426"/><rect x="329.47" y="337.70" width="6.3" height="6.3" fill="#b40426"/><rect x="338.69" y="337.70" width="6.3" height="6.3" fill="#f7a889"/><rect x="347.92" y="337.70" width="6.3" height="6.3" fill="#f08a6c"/><rect x="357.14" y="337.70" width="6.3" height="6.3" fill="#b40426"/><rect x="366.36" y="337.70" width="6.3" height="6.3" fill="#edd1c2"/><rect x="375.58" y="337.70" width="6.3" height="6.3" fill="#e26952"/><rect x="384.80" y="337.70" width="6.3" height="6.3" fill="#f7a889"/><rect x="394.03" y="337.70" width="6.3" height="6.3" fill="#edd1c2"/><rect x="403.25" y="337.70" width="6.3" height="6.3" fill="#b40426"/><rect x="412.47" y="337.70" width="6.3" height="6.3" fill="#9abbff"/><rect x="421.69" y="337.70" width="6.3" height="6.3" fill="#80a3fa"/><rect x="89.70" y="136.23" width="6.3" height="6.3" fill="#b40426"/><rect x="89.70" y="144.81" width="6.3" height="6.3" fill="#b40426"/><rect x="98.92" y="144.81" width="6.3" height="6.3" fill="#f7a889"/><rect x="108.14" y="144.81" width="6.3" height="6.3" fill="#80a3fa"/><rect x="117.37" y="144.81" width="6.3" height="6.3" fill="#cd423b"/><rect x="126.59" y="144.81" width="6.3" height="6.3" fill="#b40426"/><rect x="135.81" y="144.81" width="6.3" height="6.3" fill="#e26952"/><rect x="145.03" y="144.81" width="6.3" height="6.3" fill="#b40426"/><rect x="154.25" y="144.81" width="6.3" height="6.3" fill="#b40426"/><rect x="163.48" y="144.81" width="6.3" height="6.3" fill="#f08a6c"/><rect x="172.70" y="144.81" width="6.3" height="6.3" fill="#b2ccfb"/><rect x="181.92" y="144.81" width="6.3" height="6.3" fill="#f7a889"/><rect x="191.14" y="144.81" width="6.3" height="6.3" fill="#e26952"/><rect x="89.70" y="153.38" width="6.3" height="6.3" fill="#f08a6c"/><rect x="98.92" y="153.38" width="6.3" height="6.3" fill="#f7a889"/><rect x="108.14" y="153.38" width="6.3" height="6.3" fill="#80a3fa"/><rect x="117.37" y="153.38" width="6.3" height="6.3" fill="#f6bfa6"/><rect x="126.59" y="153.38" width="6.3" height="6.3" fill="#b40426"/><rect x="135.81" y="153.38" width="6.3" height="6.3" fill="#edd1c2"/><rect x="145.03" y="153.38" width="6.3" height="6.3" fill="#b40426"/><rect x="154.25" y="153.38" width="6.3" height="6.3" fill="#f6bfa6"/><rect x="163.48" y="153.38" width="6.3" height="6.3" fill="#e26952"/><rect x="172.70" y="153.38" width="6.3" height="6.3" fill="#b40426"/><rect x="181.92" y="153.38" width="6.3" height="6.3" fill="#e26952"/><rect x="191.14" y="153.38" width="6.3" height="6.3" fill="#b40426"/><rect x="89.70" y="161.95" width="6.3" height="6.3" fill="#e26952"/><rect x="98.92" y="161.95" width="6.3" height="6.3" fill="#b40426"/><rect x="108.14" y="161.95" width="6.3" height="6.3" fill="#b40426"/><rect x="117.37" y="161.95" width="6.3" height="6.3" fill="#b40426"/><rect x="126.59" y="161.95" width="6.3" height="6.3" fill="#f7a889"/><rect x="135.81" y="161.95" width="6.3" height="6.3" fill="#b40426"/><rect x="145.03" y="161.95" width="6.3" height="6.3" fill="#506bda"/><rect x="154.25" y="161.95" width="6.3" height="6.3" fill="#c9d7f0"/><rect x="163.48" y="161.95" width="6.3" height="6.3" fill="#b2ccfb"/><rect x="172.70" y="161.95" width="6.3" height="6.3" fill="#f6bfa6"/><rect x="181.92" y="161.95" width="6.3" height="6.3" fill="#b40426"/><rect x="191.14" y="161.95" width="6.3" height="6.3" fill="#b40426"/><rect x="89.70" y="170.53" width="6.3" height="6.3" fill="#f7a889"/><rect x="98.92" y="170.53" width="6.3" height="6.3" fill="#b40426"/><rect x="108.14" y="170.53" width="6.3" height="6.3" fill="#b40426"/><rect x="117.37" y="170.53" width="6.3" height="6.3" fill="#b40426"/><rect x="126.59" y="170.53" width="6.3" height="6.3" fill="#b40426"/><rect x="135.81" y="170.53" width="6.3" height="6.3" fill="#cd423b"/><rect x="145.03" y="170.53" width="6.3" height="6.3" fill="#edd1c2"/><rect x="154.25" y="170.53" width="6.3" height="6.3" fill="#9abbff"/><rect x="163.48" y="170.53" width="6.3" height="6.3" fill="#80a3fa"/><rect x="172.70" y="170.53" width="6.3" height="6.3" fill="#edd1c2"/><rect x="181.92" y="170.53" width="6.3" height="6.3" fill="#b2ccfb"/><rect x="191.14" y="170.53" width="6.3" height="6.3" fill="#b40426"/><rect x="89.70" y="179.10" width="6.3" height="6.3" fill="#c9d7f0"/><rect x="98.92" y="179.10" width="6.3" height="6.3" fill="#b2ccfb"/><rect x="108.14" y="179.10" width="6.3" height="6.3" fill="#b40426"/><rect x="117.37" y="179.10" width="6.3" height="6.3" fill="#6788ee"/><rect x="126.59" y="179.10" width="6.3" height="6.3" fill="#f08a6c"/><rect x="135.81" y="179.10" width="6.3" height="6.3" fill="#b40426"/><rect x="145.03" y="179.10" width="6.3" height="6.3" fill="#b2ccfb"/><rect x="154.25" y="179.10" width="6.3" height="6.3" fill="#c9d7f0"/><rect x="163.48" y="179.10" width="6.3" height="6.3" fill="#b40426"/><rect x="172.70" y="179.10" width="6.3" height="6.3" fill="#e26952"/><rect x="181.92" y="179.10" width="6.3" height="6.3" fill="#b2ccfb"/><rect x="191.14" y="179.10" width="6.3" height="6.3" fill="#f6bfa6"/><rect x="89.70" y="187.67" width="6.3" height="6.3" fill="#e26952"/><rect x="98.92" y="187.67" width="6.3" height="6.3" fill="#dddcdc"/><rect x="108.14" y="187.67" width="6.3" height="6.3" fill="#b40426"/><rect x="117.37" y="187.67" width="6.3" height="6.3" fill="#f08a6c"/><rect x="126.59" y="187.67" width="6.3" height="6.3" fill="#edd1c2"/><rect x="135.81" y="187.67" width="6.3" height="6.3" fill="#f6bfa6"/><rect x="145.03" y="187.67" width="6.3" height="6.3" fill="#9abbff"/><rect x="154.25" y="187.67" width="6.3" height="6.3" fill="#f7a889"/><rect x="163.48" y="187.67" width="6.3" height="6.3" fill="#b40426"/><rect x="172.70" y="187.67" width="6.3" height="6.3" fill="#f7a889"/><rect x="181.92" y="187.67" width="6.3" height="6.3" fill="#f7a889"/><rect x="191.14" y="187.67" width="6.3" height="6.3" fill="#cd423b"/><rect x="89.70" y="196.25" width="6.3" height="6.3" fill="#b40426"/><rect x="98.92" y="196.25" width="6.3" height="6.3" fill="#b2ccfb"/><rect x="108.14" y="196.25" width="6.3" height="6.3" fill="#9abbff"/><rect x="117.37" y="196.25" width="6.3" height="6.3" fill="#b40426"/><rect x="126.59" y="196.25" width="6.3" height="6.3" fill="#f08a6c"/><rect x="135.81" y="196.25" width="6.3" height="6.3" fill="#b40426"/><rect x="145.03" y="196.25" width="6.3" height="6.3" fill="#c9d7f0"/><rect x="154.25" y="196.25" width="6.3" height="6.3" fill="#b2ccfb"/><rect x="163.48" y="196.25" width="6.3" height="6.3" fill="#edd1c2"/><rect x="172.70" y="196.25" width="6.3" height="6.3" fill="#f6bfa6"/><rect x="181.92" y="196.25" width="6.3" height="6.3" fill="#b40426"/><rect x="191.14" y="196.25" width="6.3" height="6.3" fill="#b40426"/><rect x="89.70" y="204.82" width="6.3" height="6.3" fill="#9abbff"/><rect x="98.92" y="204.82" width="6.3" height="6.3" fill="#b40426"/><rect x="108.14" y="204.82" width="6.3" height="6.3" fill="#dddcdc"/><rect x="117.37" y="204.82" width="6.3" height="6.3" fill="#b2ccfb"/><rect x="126.59" y="204.82" width="6.3" height="6.3" fill="#b40426"/><rect x="135.81" y="204.82" width="6.3" height="6.3" fill="#c9d7f0"/><rect x="145.03" y="204.82" width="6.3" height="6.3" fill="#b40426"/><rect x="154.25" y="204.82" width="6.3" height="6.3" fill="#80a3fa"/><rect x="163.48" y="204.82" width="6.3" height="6.3" fill="#c9d7f0"/><rect x="172.70" y="204.82" width="6.3" height="6.3" fill="#9abbff"/><rect x="181.92" y="204.82" width="6.3" height="6.3" fill="#b40426"/><rect x="191.14" y="204.82" width="6.3" height="6.3" fill="#b40426"/><rect x="89.70" y="213.39" width="6.3" height="6.3" fill="#edd1c2"/><rect x="98.92" y="213.39" width="6.3" height="6.3" fill="#b40426"/><rect x="108.14" y="213.39" width="6.3" height="6.3" fill="#b2ccfb"/><rect x="117.37" y="213.39" width="6.3" height="6.3" fill="#edd1c2"/><rect x="126.59" y="213.39" width="6.3" height="6.3" fill="#b40426"/><rect x="135.81" y="213.39" width="6.3" height="6.3" fill="#b40426"/><rect x="145.03" y="213.39" width="6.3" height="6.3" fill="#80a3fa"/><rect x="154.25" y="213.39" width="6.3" height="6.3" fill="#cd423b"/><rect x="163.48" y="213.39" width="6.3" height="6.3" fill="#b40426"/><rect x="172.70" y="213.39" width="6.3" height="6.3" fill="#b2ccfb"/><rect x="181.92" y="213.39" width="6.3" height="6.3" fill="#b40426"/><rect x="191.14" y="213.39" width="6.3" height="6.3" fill="#b40426"/><rect x="89.70" y="221.96" width="6.3" height="6.3" fill="#e26952"/><rect x="98.92" y="221.96" width="6.3" height="6.3" fill="#f6bfa6"/><rect x="108.14" y="221.96" width="6.3" height="6.3" fill="#f6bfa6"/><rect x="117.37" y="221.96" width="6.3" height="6.3" fill="#b40426"/><rect x="126.59" y="221.96" width="6.3" height="6.3" fill="#b2ccfb"/><rect x="135.81" y="221.96" width="6.3" height="6.3" fill="#b40426"/><rect x="145.03" y="221.96" width="6.3" height="6.3" fill="#c9d7f0"/><rect x="154.25" y="221.96" width="6.3" height="6.3" fill="#f7a889"/><rect x="163.48" y="221.96" width="6.3" height="6.3" fill="#b40426"/><rect x="172.70" y="221.96" width="6.3" height="6.3" fill="#9abbff"/><rect x="181.92" y="221.96" width="6.3" height="6.3" fill="#b40426"/><rect x="191.14" y="221.96" width="6.3" height="6.3" fill="#b40426"/><rect x="89.70" y="230.54" width="6.3" height="6.3" fill="#dddcdc"/><rect x="98.92" y="230.54" width="6.3" height="6.3" fill="#f6bfa6"/><rect x="108.14" y="230.54" width="6.3" height="6.3" fill="#9abbff"/><rect x="117.37" y="230.54" width="6.3" height="6.3" fill="#f6bfa6"/><rect x="126.59" y="230.54" width="6.3" height="6.3" fill="#f7a889"/><rect x="135.81" y="230.54" width="6.3" height="6.3" fill="#b40426"/><rect x="145.03" y="230.54" width="6.3" height="6.3" fill="#f6bfa6"/><rect x="154.25" y="230.54" width="6.3" height="6.3" fill="#dddcdc"/><rect x="163.48" y="230.54" width="6.3" height="6.3" fill="#e26952"/><rect x="172.70" y="230.54" width="6.3" height="6.3" fill="#f6bfa6"/><rect x="181.92" y="230.54" width="6.3" height="6.3" fill="#b40426"/><rect x="191.14" y="230.54" width="6.3" height="6.3" fill="#9abbff"/><rect x="204.97" y="136.23" width="6.3" height="6.3" fill="#f6bfa6"/><rect x="204.97" y="144.81" width="6.3" height="6.3" fill="#b40426"/><rect x="214.20" y="144.81" width="6.3" height="6.3" fill="#f6bfa6"/><rect x="223.42" y="144.81" width="6.3" height="6.3" fill="#b40426"/><rect x="232.64" y="144.81" width="6.3" height="6.3" fill="#b40426"/><rect x="241.86" y="144.81" width="6.3" height="6.3" fill="#b40426"/><rect x="251.08" y="144.81" width="6.3" height="6.3" fill="#b40426"/><rect x="260.31" y="144.81" width="6.3" height="6.3" fill="#c9d7f0"/><rect x="269.53" y="144.81" width="6.3" height="6.3" fill="#dddcdc"/><rect x="278.75" y="144.81" width="6.3" height="6.3" fill="#9abbff"/><rect x="287.97" y="144.81" width="6.3" height="6.3" fill="#b40426"/><rect x="297.19" y="144.81" width="6.3" height="6.3" fill="#9abbff"/><rect x="306.42" y="144.81" width="6.3" height="6.3" fill="#b40426"/><rect x="204.97" y="153.38" width="6.3" height="6.3" fill="#f6bfa6"/><rect x="214.20" y="153.38" width="6.3" height="6.3" fill="#b40426"/><rect x="223.42" y="153.38" width="6.3" height="6.3" fill="#b40426"/><rect x="232.64" y="153.38" width="6.3" height="6.3" fill="#b40426"/><rect x="241.86" y="153.38" width="6.3" height="6.3" fill="#b2ccfb"/><rect x="251.08" y="153.38" width="6.3" height="6.3" fill="#c9d7f0"/><rect x="260.31" y="153.38" width="6.3" height="6.3" fill="#b2ccfb"/><rect x="269.53" y="153.38" width="6.3" height="6.3" fill="#f7a889"/><rect x="278.75" y="153.38" width="6.3" height="6.3" fill="#b40426"/><rect x="287.97" y="153.38" width="6.3" height="6.3" fill="#f08a6c"/><rect x="297.19" y="153.38" width="6.3" height="6.3" fill="#f6bfa6"/><rect x="306.42" y="153.38" width="6.3" height="6.3" fill="#e26952"/><rect x="204.97" y="161.95" width="6.3" height="6.3" fill="#f08a6c"/><rect x="214.20" y="161.95" width="6.3" height="6.3" fill="#c9d7f0"/><rect x="223.42" y="161.95" width="6.3" height="6.3" fill="#b40426"/><rect x="232.64" y="161.95" width="6.3" height="6.3" fill="#f7a889"/><rect x="241.86" y="161.95" width="6.3" height="6.3" fill="#80a3fa"/><rect x="251.08" y="161.95" width="6.3" height="6.3" fill="#f7a889"/><rect x="260.31" y="161.95" width="6.3" height="6.3" fill="#b40426"/><rect x="269.53" y="161.95" width="6.3" height="6.3" fill="#b40426"/><rect x="278.75" y="161.95" width="6.3" height="6.3" fill="#b40426"/><rect x="287.97" y="161.95" width="6.3" height="6.3" fill="#9abbff"/><rect x="297.19" y="161.95" width="6.3" height="6.3" fill="#b40426"/><rect x="306.42" y="161.95" width="6.3" height="6.3" fill="#f6bfa6"/><rect x="204.97" y="170.53" width="6.3" height="6.3" fill="#b40426"/><rect x="214.20" y="170.53" width="6.3" height="6.3" fill="#f08a6c"/><rect x="223.42" y="170.53" width="6.3" height="6.3" fill="#b40426"/><rect x="232.64" y="170.53" width="6.3" height="6.3" fill="#f6bfa6"/><rect x="241.86" y="170.53" width="6.3" height="6.3" fill="#dddcdc"/><rect x="251.08" y="170.53" width="6.3" height="6.3" fill="#f6bfa6"/><rect x="260.31" y="170.53" width="6.3" height="6.3" fill="#dddcdc"/><rect x="269.53" y="170.53" width="6.3" height="6.3" fill="#e26952"/><rect x="278.75" y="170.53" width="6.3" height="6.3" fill="#b40426"/><rect x="287.97" y="170.53" width="6.3" height="6.3" fill="#b40426"/><rect x="297.19" y="170.53" width="6.3" height="6.3" fill="#e26952"/><rect x="306.42" y="170.53" width="6.3" height="6.3" fill="#b40426"/><rect x="204.97" y="179.10" width="6.3" height="6.3" fill="#f08a6c"/><rect x="214.20" y="179.10" width="6.3" height="6.3" fill="#edd1c2"/><rect x="223.42" y="179.10" width="6.3" height="6.3" fill="#f7a889"/><rect x="232.64" y="179.10" width="6.3" height="6.3" fill="#b40426"/><rect x="241.86" y="179.10" width="6.3" height="6.3" fill="#b2ccfb"/><rect x="251.08" y="179.10" width="6.3" height="6.3" fill="#f7a889"/><rect x="260.31" y="179.10" width="6.3" height="6.3" fill="#b2ccfb"/><rect x="269.53" y="179.10" width="6.3" height="6.3" fill="#cd423b"/><rect x="278.75" y="179.10" width="6.3" height="6.3" fill="#b40426"/><rect x="287.97" y="179.10" width="6.3" height="6.3" fill="#b40426"/><rect x="297.19" y="179.10" width="6.3" height="6.3" fill="#b40426"/><rect x="306.42" y="179.10" width="6.3" height="6.3" fill="#b40426"/><rect x="204.97" y="187.67" width="6.3" height="6.3" fill="#edd1c2"/><rect x="214.20" y="187.67" width="6.3" height="6.3" fill="#6788ee"/><rect x="223.42" y="187.67" width="6.3" height="6.3" fill="#b40426"/><rect x="232.64" y="187.67" width="6.3" height="6.3" fill="#f6bfa6"/><rect x="241.86" y="187.67" width="6.3" height="6.3" fill="#b40426"/><rect x="251.08" y="187.67" width="6.3" height="6.3" fill="#b2ccfb"/><rect x="260.31" y="187.67" width="6.3" height="6.3" fill="#f7a889"/><rect x="269.53" y="187.67" width="6.3" height="6.3" fill="#cd423b"/><rect x="278.75" y="187.67" width="6.3" height="6.3" fill="#b40426"/><rect x="287.97" y="187.67" width="6.3" height="6.3" fill="#b2ccfb"/><rect x="297.19" y="187.67" width="6.3" height="6.3" fill="#f7a889"/><rect x="306.42" y="187.67" width="6.3" height="6.3" fill="#b40426"/><rect x="204.97" y="196.25" width="6.3" height="6.3" fill="#edd1c2"/><rect x="214.20" y="196.25" width="6.3" height="6.3" fill="#f08a6c"/><rect x="223.42" y="196.25" width="6.3" height="6.3" fill="#b40426"/><rect x="232.64" y="196.25" width="6.3" height="6.3" fill="#b40426"/><rect x="241.86" y="196.25" width="6.3" height="6.3" fill="#b40426"/><rect x="251.08" y="196.25" width="6.3" height="6.3" fill="#b40426"/><rect x="260.31" y="196.25" width="6.3" height="6.3" fill="#b40426"/><rect x="269.53" y="196.25" width="6.3" height="6.3" fill="#f08a6c"/><rect x="278.75" y="196.25" width="6.3" height="6.3" fill="#b40426"/><rect x="287.97" y="196.25" width="6.3" height="6.3" fill="#b40426"/><rect x="297.19" y="196.25" width="6.3" height="6.3" fill="#e26952"/><rect x="306.42" y="196.25" width="6.3" height="6.3" fill="#b40426"/><rect x="204.97" y="204.82" width="6.3" height="6.3" fill="#f6bfa6"/><rect x="214.20" y="204.82" width="6.3" height="6.3" fill="#b40426"/><rect x="223.42" y="204.82" width="6.3" height="6.3" fill="#b40426"/><rect x="232.64" y="204.82" width="6.3" height="6.3" fill="#dddcdc"/><rect x="241.86" y="204.82" width="6.3" height="6.3" fill="#e26952"/><rect x="251.08" y="204.82" width="6.3" height="6.3" fill="#b40426"/><rect x="260.31" y="204.82" width="6.3" height="6.3" fill="#b40426"/><rect x="269.53" y="204.82" width="6.3" height="6.3" fill="#6788ee"/><rect x="278.75" y="204.82" width="6.3" height="6.3" fill="#dddcdc"/><rect x="287.97" y="204.82" width="6.3" height="6.3" fill="#e26952"/><rect x="297.19" y="204.82" width="6.3" height="6.3" fill="#dddcdc"/><rect x="306.42" y="204.82" width="6.3" height="6.3" fill="#b40426"/><rect x="204.97" y="213.39" width="6.3" height="6.3" fill="#b40426"/><rect x="214.20" y="213.39" width="6.3" height="6.3" fill="#b40426"/><rect x="223.42" y="213.39" width="6.3" height="6.3" fill="#f6bfa6"/><rect x="232.64" y="213.39" width="6.3" height="6.3" fill="#b40426"/><rect x="241.86" y="213.39" width="6.3" height="6.3" fill="#f08a6c"/><rect x="251.08" y="213.39" width="6.3" height="6.3" fill="#f7a889"/><rect x="260.31" y="213.39" width="6.3" height="6.3" fill="#b2ccfb"/><rect x="269.53" y="213.39" width="6.3" height="6.3" fill="#f6bfa6"/><rect x="278.75" y="213.39" width="6.3" height="6.3" fill="#b40426"/><rect x="287.97" y="213.39" width="6.3" height="6.3" fill="#f6bfa6"/><rect x="297.19" y="213.39" width="6.3" height="6.3" fill="#b40426"/><rect x="306.42" y="213.39" width="6.3" height="6.3" fill="#edd1c2"/><rect x="204.97" y="221.96" width="6.3" height="6.3" fill="#b40426"/><rect x="214.20" y="221.96" width="6.3" height="6.3" fill="#dddcdc"/><rect x="223.42" y="221.96" width="6.3" height="6.3" fill="#b40426"/><rect x="232.64" y="221.96" width="6.3" height="6.3" fill="#edd1c2"/><rect x="241.86" y="221.96" width="6.3" height="6.3" fill="#b40426"/><rect x="251.08" y="221.96" width="6.3" height="6.3" fill="#6788ee"/><rect x="260.31" y="221.96" width="6.3" height="6.3" fill="#e26952"/><rect x="269.53" y="221.96" width="6.3" height="6.3" fill="#b2ccfb"/><rect x="278.75" y="221.96" width="6.3" height="6.3" fill="#dddcdc"/><rect x="287.97" y="221.96" width="6.3" height="6.3" fill="#b40426"/><rect x="297.19" y="221.96" width="6.3" height="6.3" fill="#b40426"/><rect x="306.42" y="221.96" width="6.3" height="6.3" fill="#dddcdc"/><rect x="204.97" y="230.54" width="6.3" height="6.3" fill="#e26952"/><rect x="214.20" y="230.54" width="6.3" height="6.3" fill="#b40426"/><rect x="223.42" y="230.54" width="6.3" height="6.3" fill="#edd1c2"/><rect x="232.64" y="230.54" width="6.3" height="6.3" fill="#b40426"/><rect x="241.86" y="230.54" width="6.3" height="6.3" fill="#b40426"/><rect x="251.08" y="230.54" width="6.3" height="6.3" fill="#f08a6c"/><rect x="260.31" y="230.54" width="6.3" height="6.3" fill="#e26952"/><rect x="269.53" y="230.54" width="6.3" height="6.3" fill="#e26952"/><rect x="278.75" y="230.54" width="6.3" height="6.3" fill="#e26952"/><rect x="287.97" y="230.54" width="6.3" height="6.3" fill="#9abbff"/><rect x="297.19" y="230.54" width="6.3" height="6.3" fill="#6788ee"/><rect x="306.42" y="230.54" width="6.3" height="6.3" fill="#e26952"/><rect x="320.25" y="136.23" width="6.3" height="6.3" fill="#b40426"/><rect x="329.47" y="136.23" width="6.3" height="6.3" fill="#edd1c2"/><rect x="320.25" y="144.81" width="6.3" height="6.3" fill="#f7a889"/><rect x="329.47" y="144.81" width="6.3" height="6.3" fill="#b40426"/><rect x="338.69" y="144.81" width="6.3" height="6.3" fill="#cd423b"/><rect x="347.92" y="144.81" width="6.3" height="6.3" fill="#edd1c2"/><rect x="357.14" y="144.81" width="6.3" height="6.3" fill="#f6bfa6"/><rect x="366.36" y="144.81" width="6.3" height="6.3" fill="#b40426"/><rect x="375.58" y="144.81" width="6.3" height="6.3" fill="#b40426"/><rect x="384.80" y="144.81" width="6.3" height="6.3" fill="#b40426"/><rect x="394.03" y="144.81" width="6.3" height="6.3" fill="#b2ccfb"/><rect x="403.25" y="144.81" width="6.3" height="6.3" fill="#b40426"/><rect x="412.47" y="144.81" width="6.3" height="6.3" fill="#b40426"/><rect x="421.69" y="144.81" width="6.3" height="6.3" fill="#b40426"/><rect x="320.25" y="153.38" width="6.3" height="6.3" fill="#f6bfa6"/><rect x="329.47" y="153.38" width="6.3" height="6.3" fill="#e26952"/><rect x="338.69" y="153.38" width="6.3" height="6.3" fill="#f7a889"/><rect x="347.92" y="153.38" width="6.3" height="6.3" fill="#b40426"/><rect x="357.14" y="153.38" width="6.3" height="6.3" fill="#dddcdc"/><rect x="366.36" y="153.38" width="6.3" height="6.3" fill="#80a3fa"/><rect x="375.58" y="153.38" width="6.3" height="6.3" fill="#dddcdc"/><rect x="384.80" y="153.38" width="6.3" height="6.3" fill="#c9d7f0"/><rect x="394.03" y="153.38" width="6.3" height="6.3" fill="#cd423b"/><rect x="403.25" y="153.38" width="6.3" height="6.3" fill="#b2ccfb"/><rect x="412.47" y="153.38" width="6.3" height="6.3" fill="#dddcdc"/><rect x="421.69" y="153.38" width="6.3" height="6.3" fill="#80a3fa"/><rect x="320.25" y="161.95" width="6.3" height="6.3" fill="#f08a6c"/><rect x="329.47" y="161.95" width="6.3" height="6.3" fill="#f7a889"/><rect x="338.69" y="161.95" width="6.3" height="6.3" fill="#f7a889"/><rect x="347.92" y="161.95" width="6.3" height="6.3" fill="#edd1c2"/><rect x="357.14" y="161.95" width="6.3" height="6.3" fill="#e26952"/><rect x="366.36" y="161.95" width="6.3" height="6.3" fill="#f6bfa6"/><rect x="375.58" y="161.95" width="6.3" height="6.3" fill="#b40426"/><rect x="384.80" y="161.95" width="6.3" height="6.3" fill="#b40426"/><rect x="394.03" y="161.95" width="6.3" height="6.3" fill="#b40426"/><rect x="403.25" y="161.95" width="6.3" height="6.3" fill="#c9d7f0"/><rect x="412.47" y="161.95" width="6.3" height="6.3" fill="#c9d7f0"/><rect x="421.69" y="161.95" width="6.3" height="6.3" fill="#edd1c2"/><rect x="320.25" y="170.53" width="6.3" height="6.3" fill="#b40426"/><rect x="329.47" y="170.53" width="6.3" height="6.3" fill="#b40426"/><rect x="338.69" y="170.53" width="6.3" height="6.3" fill="#f6bfa6"/><rect x="347.92" y="170.53" width="6.3" height="6.3" fill="#80a3fa"/><rect x="357.14" y="170.53" width="6.3" height="6.3" fill="#b40426"/><rect x="366.36" y="170.53" width="6.3" height="6.3" fill="#b40426"/><rect x="375.58" y="170.53" width="6.3" height="6.3" fill="#b40426"/><rect x="384.80" y="170.53" width="6.3" height="6.3" fill="#b40426"/><rect x="394.03" y="170.53" width="6.3" height="6.3" fill="#80a3fa"/><rect x="403.25" y="170.53" width="6.3" height="6.3" fill="#f08a6c"/><rect x="412.47" y="170.53" width="6.3" height="6.3" fill="#b2ccfb"/><rect x="421.69" y="170.53" width="6.3" height="6.3" fill="#b40426"/><rect x="320.25" y="179.10" width="6.3" height="6.3" fill="#f7a889"/><rect x="329.47" y="179.10" width="6.3" height="6.3" fill="#f6bfa6"/><rect x="338.69" y="179.10" width="6.3" height="6.3" fill="#f6bfa6"/><rect x="347.92" y="179.10" width="6.3" height="6.3" fill="#b40426"/><rect x="357.14" y="179.10" width="6.3" height="6.3" fill="#b2ccfb"/><rect x="366.36" y="179.10" width="6.3" height="6.3" fill="#f6bfa6"/><rect x="375.58" y="179.10" width="6.3" height="6.3" fill="#e26952"/><rect x="384.80" y="179.10" width="6.3" height="6.3" fill="#cd423b"/><rect x="394.03" y="179.10" width="6.3" height="6.3" fill="#b40426"/><rect x="403.25" y="179.10" width="6.3" height="6.3" fill="#b40426"/><rect x="412.47" y="179.10" width="6.3" height="6.3" fill="#f6bfa6"/><rect x="421.69" y="179.10" width="6.3" height="6.3" fill="#b40426"/><rect x="320.25" y="187.67" width="6.3" height="6.3" fill="#b2ccfb"/><rect x="329.47" y="187.67" width="6.3" height="6.3" fill="#dddcdc"/><rect x="338.69" y="187.67" width="6.3" height="6.3" fill="#b40426"/><rect x="347.92" y="187.67" width="6.3" height="6.3" fill="#e26952"/><rect x="357.14" y="187.67" width="6.3" height="6.3" fill="#f7a889"/><rect x="366.36" y="187.67" width="6.3" height="6.3" fill="#f6bfa6"/><rect x="375.58" y="187.67" width="6.3" height="6.3" fill="#b40426"/><rect x="384.80" y="187.67" width="6.3" height="6.3" fill="#f7a889"/><rect x="394.03" y="187.67" width="6.3" height="6.3" fill="#b40426"/><rect x="403.25" y="187.67" width="6.3" height="6.3" fill="#f6bfa6"/><rect x="412.47" y="187.67" width="6.3" height="6.3" fill="#f08a6c"/><rect x="421.69" y="187.67" width="6.3" height="6.3" fill="#80a3fa"/><rect x="320.25" y="196.25" width="6.3" height="6.3" fill="#b40426"/><rect x="329.47" y="196.25" width="6.3" height="6.3" fill="#b2ccfb"/><rect x="338.69" y="196.25" width="6.3" height="6.3" fill="#9abbff"/><rect x="347.92" y="196.25" width="6.3" height="6.3" fill="#b40426"/><rect x="357.14" y="196.25" width="6.3" height="6.3" fill="#b40426"/><rect x="366.36" y="196.25" width="6.3" height="6.3" fill="#dddcdc"/><rect x="375.58" y="196.25" width="6.3" height="6.3" fill="#b40426"/><rect x="384.80" y="196.25" width="6.3" height="6.3" fill="#e26952"/><rect x="394.03" y="196.25" width="6.3" height="6.3" fill="#cd423b"/><rect x="403.25" y="196.25" width="6.3" height="6.3" fill="#b40426"/><rect x="412.47" y="196.25" width="6.3" height="6.3" fill="#b40426"/><rect x="421.69" y="196.25" width="6.3" height="6.3" fill="#b40426"/><rect x="320.25" y="204.82" width="6.3" height="6.3" fill="#cd423b"/><rect x="329.47" y="204.82" width="6.3" height="6.3" fill="#b40426"/><rect x="338.69" y="204.82" width="6.3" height="6.3" fill="#b40426"/><rect x="347.92" y="204.82" width="6.3" height="6.3" fill="#6788ee"/><rect x="357.14" y="204.82" width="6.3" height="6.3" fill="#c9d7f0"/><rect x="366.36" y="204.82" width="6.3" height="6.3" fill="#b40426"/><rect x="375.58" y="204.82" width="6.3" height="6.3" fill="#80a3fa"/><rect x="384.80" y="204.82" width="6.3" height="6.3" fill="#b40426"/><rect x="394.03" y="204.82" width="6.3" height="6.3" fill="#b2ccfb"/><rect x="403.25" y="204.82" width="6.3" height="6.3" fill="#b40426"/><rect x="412.47" y="204.82" width="6.3" height="6.3" fill="#b40426"/><rect x="421.69" y="204.82" width="6.3" height="6.3" fill="#f08a6c"/><rect x="320.25" y="213.39" width="6.3" height="6.3" fill="#b40426"/><rect x="329.47" y="213.39" width="6.3" height="6.3" fill="#c9d7f0"/><rect x="338.69" y="213.39" width="6.3" height="6.3" fill="#b40426"/><rect x="347.92" y="213.39" width="6.3" height="6.3" fill="#b40426"/><rect x="357.14" y="213.39" width="6.3" height="6.3" fill="#b40426"/><rect x="366.36" y="213.39" width="6.3" height="6.3" fill="#e26952"/><rect x="375.58" y="213.39" width="6.3" height="6.3" fill="#f6bfa6"/><rect x="384.80" y="213.39" width="6.3" height="6.3" fill="#b40426"/><rect x="394.03" y="213.39" width="6.3" height="6.3" fill="#b40426"/><rect x="403.25" y="213.39" width="6.3" height="6.3" fill="#b40426"/><rect x="412.47" y="213.39" width="6.3" height="6.3" fill="#b40426"/><rect x="421.69" y="213.39" width="6.3" height="6.3" fill="#b40426"/><rect x="320.25" y="221.96" width="6.3" height="6.3" fill="#f08a6c"/><rect x="329.47" y="221.96" width="6.3" height="6.3" fill="#b40426"/><rect x="338.69" y="221.96" width="6.3" height="6.3" fill="#b40426"/><rect x="347.92" y="221.96" width="6.3" height="6.3" fill="#b2ccfb"/><rect x="357.14" y="221.96" width="6.3" height="6.3" fill="#c9d7f0"/><rect x="366.36" y="221.96" width="6.3" height="6.3" fill="#b40426"/><rect x="375.58" y="221.96" width="6.3" height="6.3" fill="#dddcdc"/><rect x="384.80" y="221.96" width="6.3" height="6.3" fill="#cd423b"/><rect x="394.03" y="221.96" width="6.3" height="6.3" fill="#e26952"/><rect x="403.25" y="221.96" width="6.3" height="6.3" fill="#b40426"/><rect x="412.47" y="221.96" width="6.3" height="6.3" fill="#b40426"/><rect x="421.69" y="221.96" width="6.3" height="6.3" fill="#edd1c2"/><rect x="320.25" y="230.54" width="6.3" height="6.3" fill="#b2ccfb"/><rect x="329.47" y="230.54" width="6.3" height="6.3" fill="#b40426"/><rect x="338.69" y="230.54" width="6.3" height="6.3" fill="#e26952"/><rect x="347.92" y="230.54" width="6.3" height="6.3" fill="#9abbff"/><rect x="357.14" y="230.54" width="6.3" height="6.3" fill="#f7a889"/><rect x="366.36" y="230.54" width="6.3" height="6.3" fill="#cd423b"/><rect x="375.58" y="230.54" width="6.3" height="6.3" fill="#c9d7f0"/><rect x="384.80" y="230.54" width="6.3" height="6.3" fill="#b40426"/><rect x="394.03" y="230.54" width="6.3" height="6.3" fill="#b40426"/><rect x="403.25" y="230.54" width="6.3" height="6.3" fill="#b40426"/><rect x="412.47" y="230.54" width="6.3" height="6.3" fill="#b40426"/><rect x="421.69" y="230.54" width="6.3" height="6.3" fill="#b40426"/><rect x="89.70" y="29.07" width="6.3" height="6.3" fill="#f08a6c"/><rect x="89.70" y="37.65" width="6.3" height="6.3" fill="#e26952"/><rect x="98.92" y="37.65" width="6.3" height="6.3" fill="#dddcdc"/><rect x="108.14" y="37.65" width="6.3" height="6.3" fill="#dddcdc"/><rect x="117.37" y="37.65" width="6.3" height="6.3" fill="#b40426"/><rect x="126.59" y="37.65" width="6.3" height="6.3" fill="#e26952"/><rect x="135.81" y="37.65" width="6.3" height="6.3" fill="#b40426"/><rect x="145.03" y="37.65" width="6.3" height="6.3" fill="#dddcdc"/><rect x="154.25" y="37.65" width="6.3" height="6.3" fill="#cd423b"/><rect x="163.48" y="37.65" width="6.3" height="6.3" fill="#b40426"/><rect x="172.70" y="37.65" width="6.3" height="6.3" fill="#f6bfa6"/><rect x="181.92" y="37.65" width="6.3" height="6.3" fill="#edd1c2"/><rect x="191.14" y="37.65" width="6.3" height="6.3" fill="#b40426"/><rect x="89.70" y="46.22" width="6.3" height="6.3" fill="#cd423b"/><rect x="98.92" y="46.22" width="6.3" height="6.3" fill="#f08a6c"/><rect x="108.14" y="46.22" width="6.3" height="6.3" fill="#b40426"/><rect x="117.37" y="46.22" width="6.3" height="6.3" fill="#f08a6c"/><rect x="126.59" y="46.22" width="6.3" height="6.3" fill="#b40426"/><rect x="135.81" y="46.22" width="6.3" height="6.3" fill="#80a3fa"/><rect x="145.03" y="46.22" width="6.3" height="6.3" fill="#9abbff"/><rect x="154.25" y="46.22" width="6.3" height="6.3" fill="#b40426"/><rect x="163.48" y="46.22" width="6.3" height="6.3" fill="#edd1c2"/><rect x="172.70" y="46.22" width="6.3" height="6.3" fill="#f6bfa6"/><rect x="181.92" y="46.22" width="6.3" height="6.3" fill="#9abbff"/><rect x="191.14" y="46.22" width="6.3" height="6.3" fill="#e26952"/><rect x="89.70" y="54.79" width="6.3" height="6.3" fill="#b2ccfb"/><rect x="98.92" y="54.79" width="6.3" height="6.3" fill="#b40426"/><rect x="108.14" y="54.79" width="6.3" height="6.3" fill="#b40426"/><rect x="117.37" y="54.79" width="6.3" height="6.3" fill="#b40426"/><rect x="126.59" y="54.79" width="6.3" height="6.3" fill="#f7a889"/><rect x="135.81" y="54.79" width="6.3" height="6.3" fill="#b40426"/><rect x="145.03" y="54.79" width="6.3" height="6.3" fill="#80a3fa"/><rect x="154.25" y="54.79" width="6.3" height="6.3" fill="#f6bfa6"/><rect x="163.48" y="54.79" width="6.3" height="6.3" fill="#f7a889"/><rect x="172.70" y="54.79" width="6.3" height="6.3" fill="#b40426"/><rect x="181.92" y="54.79" width="6.3" height="6.3" fill="#b40426"/><rect x="191.14" y="54.79" width="6.3" height="6.3" fill="#cd423b"/><rect x="89.70" y="63.36" width="6.3" height="6.3" fill="#edd1c2"/><rect x="98.92" y="63.36" width="6.3" height="6.3" fill="#b40426"/><rect x="108.14" y="63.36" width="6.3" height="6.3" fill="#dddcdc"/><rect x="117.37" y="63.36" width="6.3" height="6.3" fill="#b2ccfb"/><rect x="126.59" y="63.36" width="6.3" height="6.3" fill="#b2ccfb"/><rect x="135.81" y="63.36" width="6.3" height="6.3" fill="#edd1c2"/><rect x="145.03" y="63.36" width="6.3" height="6.3" fill="#dddcdc"/><rect x="154.25" y="63.36" width="6.3" height="6.3" fill="#b40426"/><rect x="163.48" y="63.36" width="6.3" height="6.3" fill="#edd1c2"/><rect x="172.70" y="63.36" width="6.3" height="6.3" fill="#b40426"/><rect x="181.92" y="63.36" width="6.3" height="6.3" fill="#9abbff"/><rect x="191.14" y="63.36" width="6.3" height="6.3" fill="#b40426"/><rect x="89.70" y="71.94" width="6.3" height="6.3" fill="#b40426"/><rect x="98.92" y="71.94" width="6.3" height="6.3" fill="#e26952"/><rect x="108.14" y="71.94" width="6.3" height="6.3" fill="#b40426"/><rect x="117.37" y="71.94" width="6.3" height="6.3" fill="#b40426"/><rect x="126.59" y="71.94" width="6.3" height="6.3" fill="#80a3fa"/><rect x="135.81" y="71.94" width="6.3" height="6.3" fill="#f6bfa6"/><rect x="145.03" y="71.94" width="6.3" height="6.3" fill="#b40426"/><rect x="154.25" y="71.94" width="6.3" height="6.3" fill="#f7a889"/><rect x="163.48" y="71.94" width="6.3" height="6.3" fill="#e26952"/><rect x="172.70" y="71.94" width="6.3" height="6.3" fill="#b2ccfb"/><rect x="181.92" y="71.94" width="6.3" height="6.3" fill="#f6bfa6"/><rect x="191.14" y="71.94" width="6.3" height="6.3" fill="#6788ee"/><rect x="89.70" y="80.51" width="6.3" height="6.3" fill="#b40426"/><rect x="98.92" y="80.51" width="6.3" height="6.3" fill="#b40426"/><rect x="108.14" y="80.51" width="6.3" height="6.3" fill="#e26952"/><rect x="117.37" y="80.51" width="6.3" height="6.3" fill="#b40426"/><rect x="126.59" y="80.51" width="6.3" height="6.3" fill="#b40426"/><rect x="135.81" y="80.51" width="6.3" height="6.3" fill="#f6bfa6"/><rect x="145.03" y="80.51" width="6.3" height="6.3" fill="#c9d7f0"/><rect x="154.25" y="80.51" width="6.3" height="6.3" fill="#b40426"/><rect x="163.48" y="80.51" width="6.3" height="6.3" fill="#f7a889"/><rect x="172.70" y="80.51" width="6.3" height="6.3" fill="#b40426"/><rect x="181.92" y="80.51" width="6.3" height="6.3" fill="#b40426"/><rect x="191.14" y="80.51" width="6.3" height="6.3" fill="#b40426"/><rect x="89.70" y="89.08" width="6.3" height="6.3" fill="#f08a6c"/><rect x="98.92" y="89.08" width="6.3" height="6.3" fill="#f7a889"/><rect x="108.14" y="89.08" width="6.3" height="6.3" fill="#c9d7f0"/><rect x="117.37" y="89.08" width="6.3" height="6.3" fill="#b40426"/><rect x="126.59" y="89.08" width="6.3" height="6.3" fill="#b40426"/><rect x="135.81" y="89.08" width="6.3" height="6.3" fill="#dddcdc"/><rect x="145.03" y="89.08" width="6.3" height="6.3" fill="#f08a6c"/><rect x="154.25" y="89.08" width="6.3" height="6.3" fill="#f7a889"/><rect x="163.48" y="89.08" width="6.3" height="6.3" fill="#b40426"/><rect x="172.70" y="89.08" width="6.3" height="6.3" fill="#506bda"/><rect x="181.92" y="89.08" width="6.3" height="6.3" fill="#dddcdc"/><rect x="191.14" y="89.08" width="6.3" height="6.3" fill="#b40426"/><rect x="89.70" y="97.66" width="6.3" height="6.3" fill="#b40426"/><rect x="98.92" y="97.66" width="6.3" height="6.3" fill="#b40426"/><rect x="108.14" y="97.66" width="6.3" height="6.3" fill="#f08a6c"/><rect x="117.37" y="97.66" width="6.3" height="6.3" fill="#b40426"/><rect x="126.59" y="97.66" width="6.3" height="6.3" fill="#edd1c2"/><rect x="135.81" y="97.66" width="6.3" height="6.3" fill="#b40426"/><rect x="145.03" y="97.66" width="6.3" height="6.3" fill="#b40426"/><rect x="154.25" y="97.66" width="6.3" height="6.3" fill="#f6bfa6"/><rect x="163.48" y="97.66" width="6.3" height="6.3" fill="#b40426"/><rect x="172.70" y="97.66" width="6.3" height="6.3" fill="#f6bfa6"/><rect x="181.92" y="97.66" width="6.3" height="6.3" fill="#b40426"/><rect x="191.14" y="97.66" width="6.3" height="6.3" fill="#dddcdc"/><rect x="89.70" y="106.23" width="6.3" height="6.3" fill="#b40426"/><rect x="98.92" y="106.23" width="6.3" height="6.3" fill="#f7a889"/><rect x="108.14" y="106.23" width="6.3" height="6.3" fill="#b40426"/><rect x="117.37" y="106.23" width="6.3" height="6.3" fill="#80a3fa"/><rect x="126.59" y="106.23" width="6.3" height="6.3" fill="#edd1c2"/><rect x="135.81" y="106.23" width="6.3" height="6.3" fill="#9abbff"/><rect x="145.03" y="106.23" width="6.3" height="6.3" fill="#c9d7f0"/><rect x="154.25" y="106.23" width="6.3" height="6.3" fill="#f08a6c"/><rect x="163.48" y="106.23" width="6.3" height="6.3" fill="#e26952"/><rect x="172.70" y="106.23" width="6.3" height="6.3" fill="#edd1c2"/><rect x="181.92" y="106.23" width="6.3" height="6.3" fill="#b40426"/><rect x="191.14" y="106.23" width="6.3" height="6.3" fill="#dddcdc"/><rect x="89.70" y="114.80" width="6.3" height="6.3" fill="#edd1c2"/><rect x="98.92" y="114.80" width="6.3" height="6.3" fill="#f7a889"/><rect x="108.14" y="114.80" width="6.3" height="6.3" fill="#b40426"/><rect x="117.37" y="114.80" width="6.3" height="6.3" fill="#cd423b"/><rect x="126.59" y="114.80" width="6.3" height="6.3" fill="#9abbff"/><rect x="135.81" y="114.80" width="6.3" height="6.3" fill="#cd423b"/><rect x="145.03" y="114.80" width="6.3" height="6.3" fill="#edd1c2"/><rect x="154.25" y="114.80" width="6.3" height="6.3" fill="#f7a889"/><rect x="163.48" y="114.80" width="6.3" height="6.3" fill="#e26952"/><rect x="172.70" y="114.80" width="6.3" height="6.3" fill="#f6bfa6"/><rect x="181.92" y="114.80" width="6.3" height="6.3" fill="#e26952"/><rect x="191.14" y="114.80" width="6.3" height="6.3" fill="#b40426"/><rect x="89.70" y="123.38" width="6.3" height="6.3" fill="#f08a6c"/><rect x="98.92" y="123.38" width="6.3" height="6.3" fill="#9abbff"/><rect x="108.14" y="123.38" width="6.3" height="6.3" fill="#b40426"/><rect x="117.37" y="123.38" width="6.3" height="6.3" fill="#dddcdc"/><rect x="126.59" y="123.38" width="6.3" height="6.3" fill="#cd423b"/><rect x="135.81" y="123.38" width="6.3" height="6.3" fill="#dddcdc"/><rect x="145.03" y="123.38" width="6.3" height="6.3" fill="#9abbff"/><rect x="154.25" y="123.38" width="6.3" height="6.3" fill="#9abbff"/><rect x="163.48" y="123.38" width="6.3" height="6.3" fill="#b40426"/><rect x="172.70" y="123.38" width="6.3" height="6.3" fill="#e26952"/><rect x="181.92" y="123.38" width="6.3" height="6.3" fill="#e26952"/><rect x="191.14" y="123.38" width="6.3" height="6.3" fill="#f6bfa6"/><rect x="204.97" y="29.07" width="6.3" height="6.3" fill="#9abbff"/><rect x="204.97" y="37.65" width="6.3" height="6.3" fill="#f7a889"/><rect x="214.20" y="37.65" width="6.3" height="6.3" fill="#b40426"/><rect x="223.42" y="37.65" width="6.3" height="6.3" fill="#b40426"/><rect x="232.64" y="37.65" width="6.3" height="6.3" fill="#e26952"/><rect x="241.86" y="37.65" width="6.3" height="6.3" fill="#b40426"/><rect x="251.08" y="37.65" width="6.3" height="6.3" fill="#e26952"/><rect x="260.31" y="37.65" width="6.3" height="6.3" fill="#b40426"/><rect x="269.53" y="37.65" width="6.3" height="6.3" fill="#b2ccfb"/><rect x="278.75" y="37.65" width="6.3" height="6.3" fill="#f6bfa6"/><rect x="287.97" y="37.65" width="6.3" height="6.3" fill="#f08a6c"/><rect x="297.19" y="37.65" width="6.3" height="6.3" fill="#b40426"/><rect x="306.42" y="37.65" width="6.3" height="6.3" fill="#edd1c2"/><rect x="204.97" y="46.22" width="6.3" height="6.3" fill="#b40426"/><rect x="214.20" y="46.22" width="6.3" height="6.3" fill="#f08a6c"/><rect x="223.42" y="46.22" width="6.3" height="6.3" fill="#b2ccfb"/><rect x="232.64" y="46.22" width="6.3" height="6.3" fill="#b40426"/><rect x="241.86" y="46.22" width="6.3" height="6.3" fill="#c9d7f0"/><rect x="251.08" y="46.22" width="6.3" height="6.3" fill="#b40426"/><rect x="260.31" y="46.22" width="6.3" height="6.3" fill="#dddcdc"/><rect x="269.53" y="46.22" width="6.3" height="6.3" fill="#b40426"/><rect x="278.75" y="46.22" width="6.3" height="6.3" fill="#f08a6c"/><rect x="287.97" y="46.22" width="6.3" height="6.3" fill="#b40426"/><rect x="297.19" y="46.22" width="6.3" height="6.3" fill="#b40426"/><rect x="306.42" y="46.22" width="6.3" height="6.3" fill="#edd1c2"/><rect x="204.97" y="54.79" width="6.3" height="6.3" fill="#b40426"/><rect x="214.20" y="54.79" width="6.3" height="6.3" fill="#80a3fa"/><rect x="223.42" y="54.79" width="6.3" height="6.3" fill="#dddcdc"/><rect x="232.64" y="54.79" width="6.3" height="6.3" fill="#b2ccfb"/><rect x="241.86" y="54.79" width="6.3" height="6.3" fill="#dddcdc"/><rect x="251.08" y="54.79" width="6.3" height="6.3" fill="#b40426"/><rect x="260.31" y="54.79" width="6.3" height="6.3" fill="#b40426"/><rect x="269.53" y="54.79" width="6.3" height="6.3" fill="#80a3fa"/><rect x="278.75" y="54.79" width="6.3" height="6.3" fill="#b2ccfb"/><rect x="287.97" y="54.79" width="6.3" height="6.3" fill="#f7a889"/><rect x="297.19" y="54.79" width="6.3" height="6.3" fill="#b40426"/><rect x="306.42" y="54.79" width="6.3" height="6.3" fill="#b40426"/><rect x="204.97" y="63.36" width="6.3" height="6.3" fill="#f6bfa6"/><rect x="214.20" y="63.36" width="6.3" height="6.3" fill="#b40426"/><rect x="223.42" y="63.36" width="6.3" height="6.3" fill="#edd1c2"/><rect x="232.64" y="63.36" width="6.3" height="6.3" fill="#b2ccfb"/><rect x="241.86" y="63.36" width="6.3" height="6.3" fill="#f6bfa6"/><rect x="251.08" y="63.36" width="6.3" height="6.3" fill="#f08a6c"/><rect x="260.31" y="63.36" width="6.3" height="6.3" fill="#edd1c2"/><rect x="269.53" y="63.36" width="6.3" height="6.3" fill="#edd1c2"/><rect x="278.75" y="63.36" width="6.3" height="6.3" fill="#b40426"/><rect x="287.97" y="63.36" width="6.3" height="6.3" fill="#b2ccfb"/><rect x="297.19" y="63.36" width="6.3" height="6.3" fill="#e26952"/><rect x="306.42" y="63.36" width="6.3" height="6.3" fill="#b2ccfb"/><rect x="204.97" y="71.94" width="6.3" height="6.3" fill="#f08a6c"/><rect x="214.20" y="71.94" width="6.3" height="6.3" fill="#b40426"/><rect x="223.42" y="71.94" width="6.3" height="6.3" fill="#b40426"/><rect x="232.64" y="71.94" width="6.3" height="6.3" fill="#b40426"/><rect x="241.86" y="71.94" width="6.3" height="6.3" fill="#f08a6c"/><rect x="251.08" y="71.94" width="6.3" height="6.3" fill="#b2ccfb"/><rect x="260.31" y="71.94" width="6.3" height="6.3" fill="#b2ccfb"/><rect x="269.53" y="71.94" width="6.3" height="6.3" fill="#b40426"/><rect x="278.75" y="71.94" width="6.3" height="6.3" fill="#b40426"/><rect x="287.97" y="71.94" width="6.3" height="6.3" fill="#f7a889"/><rect x="297.19" y="71.94" width="6.3" height="6.3" fill="#e26952"/><rect x="306.42" y="71.94" width="6.3" height="6.3" fill="#b40426"/><rect x="204.97" y="80.51" width="6.3" height="6.3" fill="#b40426"/><rect x="214.20" y="80.51" width="6.3" height="6.3" fill="#b40426"/><rect x="223.42" y="80.51" width="6.3" height="6.3" fill="#edd1c2"/><rect x="232.64" y="80.51" width="6.3" height="6.3" fill="#b40426"/><rect x="241.86" y="80.51" width="6.3" height="6.3" fill="#f7a889"/><rect x="251.08" y="80.51" width="6.3" height="6.3" fill="#b2ccfb"/><rect x="260.31" y="80.51" width="6.3" height="6.3" fill="#80a3fa"/><rect x="269.53" y="80.51" width="6.3" height="6.3" fill="#cd423b"/><rect x="278.75" y="80.51" width="6.3" height="6.3" fill="#edd1c2"/><rect x="287.97" y="80.51" width="6.3" height="6.3" fill="#b40426"/><rect x="297.19" y="80.51" width="6.3" height="6.3" fill="#e26952"/><rect x="306.42" y="80.51" width="6.3" height="6.3" fill="#dddcdc"/><rect x="204.97" y="89.08" width="6.3" height="6.3" fill="#f6bfa6"/><rect x="214.20" y="89.08" width="6.3" height="6.3" fill="#b2ccfb"/><rect x="223.42" y="89.08" width="6.3" height="6.3" fill="#cd423b"/><rect x="232.64" y="89.08" width="6.3" height="6.3" fill="#b40426"/><rect x="241.86" y="89.08" width="6.3" height="6.3" fill="#f08a6c"/><rect x="251.08" y="89.08" width="6.3" height="6.3" fill="#80a3fa"/><rect x="260.31" y="89.08" width="6.3" height="6.3" fill="#e26952"/><rect x="269.53" y="89.08" width="6.3" height="6.3" fill="#b40426"/><rect x="278.75" y="89.08" width="6.3" height="6.3" fill="#b40426"/><rect x="287.97" y="89.08" width="6.3" height="6.3" fill="#b2ccfb"/><rect x="297.19" y="89.08" width="6.3" height="6.3" fill="#b40426"/><rect x="306.42" y="89.08" width="6.3" height="6.3" fill="#b40426"/><rect x="204.97" y="97.66" width="6.3" height="6.3" fill="#f6bfa6"/><rect x="214.20" y="97.66" width="6.3" height="6.3" fill="#b2ccfb"/><rect x="223.42" y="97.66" width="6.3" height="6.3" fill="#80a3fa"/><rect x="232.64" y="97.66" width="6.3" height="6.3" fill="#b40426"/><rect x="241.86" y="97.66" width="6.3" height="6.3" fill="#c9d7f0"/><rect x="251.08" y="97.66" width="6.3" height="6.3" fill="#9abbff"/><rect x="260.31" y="97.66" width="6.3" height="6.3" fill="#f6bfa6"/><rect x="269.53" y="97.66" width="6.3" height="6.3" fill="#e26952"/><rect x="278.75" y="97.66" width="6.3" height="6.3" fill="#b40426"/><rect x="287.97" y="97.66" width="6.3" height="6.3" fill="#f6bfa6"/><rect x="297.19" y="97.66" width="6.3" height="6.3" fill="#b40426"/><rect x="306.42" y="97.66" width="6.3" height="6.3" fill="#f7a889"/><rect x="204.97" y="106.23" width="6.3" height="6.3" fill="#f6bfa6"/><rect x="214.20" y="106.23" width="6.3" height="6.3" fill="#b40426"/><rect x="223.42" y="106.23" width="6.3" height="6.3" fill="#f08a6c"/><rect x="232.64" y="106.23" width="6.3" height="6.3" fill="#f6bfa6"/><rect x="241.86" y="106.23" width="6.3" height="6.3" fill="#edd1c2"/><rect x="251.08" y="106.23" width="6.3" height="6.3" fill="#f6bfa6"/><rect x="260.31" y="106.23" width="6.3" height="6.3" fill="#80a3fa"/><rect x="269.53" y="106.23" width="6.3" height="6.3" fill="#cd423b"/><rect x="278.75" y="106.23" width="6.3" height="6.3" fill="#dddcdc"/><rect x="287.97" y="106.23" width="6.3" height="6.3" fill="#b40426"/><rect x="297.19" y="106.23" width="6.3" height="6.3" fill="#6788ee"/><rect x="306.42" y="106.23" width="6.3" height="6.3" fill="#f6bfa6"/><rect x="204.97" y="114.80" width="6.3" height="6.3" fill="#f7a889"/><rect x="214.20" y="114.80" width="6.3" height="6.3" fill="#9abbff"/><rect x="223.42" y="114.80" width="6.3" height="6.3" fill="#c9d7f0"/><rect x="232.64" y="114.80" width="6.3" height="6.3" fill="#b40426"/><rect x="241.86" y="114.80" width="6.3" height="6.3" fill="#cd423b"/><rect x="251.08" y="114.80" width="6.3" height="6.3" fill="#edd1c2"/><rect x="260.31" y="114.80" width="6.3" height="6.3" fill="#b40426"/><rect x="269.53" y="114.80" width="6.3" height="6.3" fill="#b40426"/><rect x="278.75" y="114.80" width="6.3" height="6.3" fill="#80a3fa"/><rect x="287.97" y="114.80" width="6.3" height="6.3" fill="#c9d7f0"/><rect x="297.19" y="114.80" width="6.3" height="6.3" fill="#b40426"/><rect x="306.42" y="114.80" width="6.3" height="6.3" fill="#cd423b"/><rect x="204.97" y="123.38" width="6.3" height="6.3" fill="#b40426"/><rect x="214.20" y="123.38" width="6.3" height="6.3" fill="#f08a6c"/><rect x="223.42" y="123.38" width="6.3" height="6.3" fill="#b40426"/><rect x="232.64" y="123.38" width="6.3" height="6.3" fill="#e26952"/><rect x="241.86" y="123.38" width="6.3" height="6.3" fill="#c9d7f0"/><rect x="251.08" y="123.38" width="6.3" height="6.3" fill="#b40426"/><rect x="260.31" y="123.38" width="6.3" height="6.3" fill="#e26952"/><rect x="269.53" y="123.38" width="6.3" height="6.3" fill="#b2ccfb"/><rect x="278.75" y="123.38" width="6.3" height="6.3" fill="#b40426"/><rect x="287.97" y="123.38" width="6.3" height="6.3" fill="#b40426"/><rect x="297.19" y="123.38" width="6.3" height="6.3" fill="#b40426"/><rect x="306.42" y="123.38" width="6.3" height="6.3" fill="#b40426"/><rect x="320.25" y="29.07" width="6.3" height="6.3" fill="#cd423b"/><rect x="329.47" y="29.07" width="6.3" height="6.3" fill="#edd1c2"/><rect x="320.25" y="37.65" width="6.3" height="6.3" fill="#80a3fa"/><rect x="329.47" y="37.65" width="6.3" height="6.3" fill="#c9d7f0"/><rect x="338.69" y="37.65" width="6.3" height="6.3" fill="#b2ccfb"/><rect x="347.92" y="37.65" width="6.3" height="6.3" fill="#b40426"/><rect x="357.14" y="37.65" width="6.3" height="6.3" fill="#b40426"/><rect x="366.36" y="37.65" width="6.3" height="6.3" fill="#b2ccfb"/><rect x="375.58" y="37.65" width="6.3" height="6.3" fill="#b2ccfb"/><rect x="384.80" y="37.65" width="6.3" height="6.3" fill="#b40426"/><rect x="394.03" y="37.65" width="6.3" height="6.3" fill="#b40426"/><rect x="403.25" y="37.65" width="6.3" height="6.3" fill="#b2ccfb"/><rect x="412.47" y="37.65" width="6.3" height="6.3" fill="#b40426"/><rect x="421.69" y="37.65" width="6.3" height="6.3" fill="#b40426"/><rect x="320.25" y="46.22" width="6.3" height="6.3" fill="#b40426"/><rect x="329.47" y="46.22" width="6.3" height="6.3" fill="#f08a6c"/><rect x="338.69" y="46.22" width="6.3" height="6.3" fill="#b40426"/><rect x="347.92" y="46.22" width="6.3" height="6.3" fill="#b40426"/><rect x="357.14" y="46.22" width="6.3" height="6.3" fill="#b40426"/><rect x="366.36" y="46.22" width="6.3" height="6.3" fill="#e26952"/><rect x="375.58" y="46.22" width="6.3" height="6.3" fill="#f6bfa6"/><rect x="384.80" y="46.22" width="6.3" height="6.3" fill="#f7a889"/><rect x="394.03" y="46.22" width="6.3" height="6.3" fill="#dddcdc"/><rect x="403.25" y="46.22" width="6.3" height="6.3" fill="#c9d7f0"/><rect x="412.47" y="46.22" width="6.3" height="6.3" fill="#edd1c2"/><rect x="421.69" y="46.22" width="6.3" height="6.3" fill="#e26952"/><rect x="320.25" y="54.79" width="6.3" height="6.3" fill="#b40426"/><rect x="329.47" y="54.79" width="6.3" height="6.3" fill="#b40426"/><rect x="338.69" y="54.79" width="6.3" height="6.3" fill="#f7a889"/><rect x="347.92" y="54.79" width="6.3" height="6.3" fill="#9abbff"/><rect x="357.14" y="54.79" width="6.3" height="6.3" fill="#b40426"/><rect x="366.36" y="54.79" width="6.3" height="6.3" fill="#b40426"/><rect x="375.58" y="54.79" width="6.3" height="6.3" fill="#b40426"/><rect x="384.80" y="54.79" width="6.3" height="6.3" fill="#cd423b"/><rect x="394.03" y="54.79" width="6.3" height="6.3" fill="#80a3fa"/><rect x="403.25" y="54.79" width="6.3" height="6.3" fill="#b40426"/><rect x="412.47" y="54.79" width="6.3" height="6.3" fill="#b40426"/><rect x="421.69" y="54.79" width="6.3" height="6.3" fill="#b40426"/><rect x="320.25" y="63.36" width="6.3" height="6.3" fill="#c9d7f0"/><rect x="329.47" y="63.36" width="6.3" height="6.3" fill="#b40426"/><rect x="338.69" y="63.36" width="6.3" height="6.3" fill="#b40426"/><rect x="347.92" y="63.36" width="6.3" height="6.3" fill="#9abbff"/><rect x="357.14" y="63.36" width="6.3" height="6.3" fill="#e26952"/><rect x="366.36" y="63.36" width="6.3" height="6.3" fill="#cd423b"/><rect x="375.58" y="63.36" width="6.3" height="6.3" fill="#f08a6c"/><rect x="384.80" y="63.36" width="6.3" height="6.3" fill="#80a3fa"/><rect x="394.03" y="63.36" width="6.3" height="6.3" fill="#f6bfa6"/><rect x="403.25" y="63.36" width="6.3" height="6.3" fill="#b40426"/><rect x="412.47" y="63.36" width="6.3" height="6.3" fill="#f6bfa6"/><rect x="421.69" y="63.36" width="6.3" height="6.3" fill="#b2ccfb"/><rect x="320.25" y="71.94" width="6.3" height="6.3" fill="#f08a6c"/><rect x="329.47" y="71.94" width="6.3" height="6.3" fill="#dddcdc"/><rect x="338.69" y="71.94" width="6.3" height="6.3" fill="#b40426"/><rect x="347.92" y="71.94" width="6.3" height="6.3" fill="#f6bfa6"/><rect x="357.14" y="71.94" width="6.3" height="6.3" fill="#b40426"/><rect x="366.36" y="71.94" width="6.3" height="6.3" fill="#80a3fa"/><rect x="375.58" y="71.94" width="6.3" height="6.3" fill="#f7a889"/><rect x="384.80" y="71.94" width="6.3" height="6.3" fill="#b40426"/><rect x="394.03" y="71.94" width="6.3" height="6.3" fill="#e26952"/><rect x="403.25" y="71.94" width="6.3" height="6.3" fill="#f6bfa6"/><rect x="412.47" y="71.94" width="6.3" height="6.3" fill="#b40426"/><rect x="421.69" y="71.94" width="6.3" height="6.3" fill="#b40426"/><rect x="320.25" y="80.51" width="6.3" height="6.3" fill="#9abbff"/><rect x="329.47" y="80.51" width="6.3" height="6.3" fill="#e26952"/><rect x="338.69" y="80.51" width="6.3" height="6.3" fill="#dddcdc"/><rect x="347.92" y="80.51" width="6.3" height="6.3" fill="#edd1c2"/><rect x="357.14" y="80.51" width="6.3" height="6.3" fill="#b40426"/><rect x="366.36" y="80.51" width="6.3" height="6.3" fill="#b40426"/><rect x="375.58" y="80.51" width="6.3" height="6.3" fill="#f08a6c"/><rect x="384.80" y="80.51" width="6.3" height="6.3" fill="#b40426"/><rect x="394.03" y="80.51" width="6.3" height="6.3" fill="#edd1c2"/><rect x="403.25" y="80.51" width="6.3" height="6.3" fill="#b40426"/><rect x="412.47" y="80.51" width="6.3" height="6.3" fill="#edd1c2"/><rect x="421.69" y="80.51" width="6.3" height="6.3" fill="#edd1c2"/><rect x="320.25" y="89.08" width="6.3" height="6.3" fill="#6788ee"/><rect x="329.47" y="89.08" width="6.3" height="6.3" fill="#b40426"/><rect x="338.69" y="89.08" width="6.3" height="6.3" fill="#edd1c2"/><rect x="347.92" y="89.08" width="6.3" height="6.3" fill="#b40426"/><rect x="357.14" y="89.08" width="6.3" height="6.3" fill="#f6bfa6"/><rect x="366.36" y="89.08" width="6.3" height="6.3" fill="#f08a6c"/><rect x="375.58" y="89.08" width="6.3" height="6.3" fill="#b40426"/><rect x="384.80" y="89.08" width="6.3" height="6.3" fill="#9abbff"/><rect x="394.03" y="89.08" width="6.3" height="6.3" fill="#b40426"/><rect x="403.25" y="89.08" width="6.3" height="6.3" fill="#b2ccfb"/><rect x="412.47" y="89.08" width="6.3" height="6.3" fill="#e26952"/><rect x="421.69" y="89.08" width="6.3" height="6.3" fill="#f08a6c"/><rect x="320.25" y="97.66" width="6.3" height="6.3" fill="#b40426"/><rect x="329.47" y="97.66" width="6.3" height="6.3" fill="#edd1c2"/><rect x="338.69" y="97.66" width="6.3" height="6.3" fill="#80a3fa"/><rect x="347.92" y="97.66" width="6.3" height="6.3" fill="#9abbff"/><rect x="357.14" y="97.66" width="6.3" height="6.3" fill="#b40426"/><rect x="366.36" y="97.66" width="6.3" height="6.3" fill="#80a3fa"/><rect x="375.58" y="97.66" width="6.3" height="6.3" fill="#b40426"/><rect x="384.80" y="97.66" width="6.3" height="6.3" fill="#b40426"/><rect x="394.03" y="97.66" width="6.3" height="6.3" fill="#b40426"/><rect x="403.25" y="97.66" width="6.3" height="6.3" fill="#b40426"/><rect x="412.47" y="97.66" width="6.3" height="6.3" fill="#c9d7f0"/><rect x="421.69" y="97.66" width="6.3" height="6.3" fill="#c9d7f0"/><rect x="320.25" y="106.23" width="6.3" height="6.3" fill="#b40426"/><rect x="329.47" y="106.23" width="6.3" height="6.3" fill="#b40426"/><rect x="338.69" y="106.23" width="6.3" height="6.3" fill="#e26952"/><rect x="347.92" y="106.23" width="6.3" height="6.3" fill="#b40426"/><rect x="357.14" y="106.23" width="6.3" height="6.3" fill="#b40426"/><rect x="366.36" y="106.23" width="6.3" height="6.3" fill="#e26952"/><rect x="375.58" y="106.23" width="6.3" height="6.3" fill="#c9d7f0"/><rect x="384.80" y="106.23" width="6.3" height="6.3" fill="#f6bfa6"/><rect x="394.03" y="106.23" width="6.3" height="6.3" fill="#b40426"/><rect x="403.25" y="106.23" width="6.3" height="6.3" fill="#f6bfa6"/><rect x="412.47" y="106.23" width="6.3" height="6.3" fill="#f6bfa6"/><rect x="421.69" y="106.23" width="6.3" height="6.3" fill="#b40426"/><rect x="320.25" y="114.80" width="6.3" height="6.3" fill="#b40426"/><rect x="329.47" y="114.80" width="6.3" height="6.3" fill="#b40426"/><rect x="338.69" y="114.80" width="6.3" height="6.3" fill="#c9d7f0"/><rect x="347.92" y="114.80" width="6.3" height="6.3" fill="#f7a889"/><rect x="357.14" y="114.80" width="6.3" height="6.3" fill="#cd423b"/><rect x="366.36" y="114.80" width="6.3" height="6.3" fill="#e26952"/><rect x="375.58" y="114.80" width="6.3" height="6.3" fill="#b40426"/><rect x="384.80" y="114.80" width="6.3" height="6.3" fill="#b40426"/><rect x="394.03" y="114.80" width="6.3" height="6.3" fill="#f6bfa6"/><rect x="403.25" y="114.80" width="6.3" height="6.3" fill="#f7a889"/><rect x="412.47" y="114.80" width="6.3" height="6.3" fill="#edd1c2"/><rect x="421.69" y="114.80" width="6.3" height="6.3" fill="#80a3fa"/><rect x="320.25" y="123.38" width="6.3" height="6.3" fill="#b40426"/><rect x="329.47" y="123.38" width="6.3" height="6.3" fill="#b2ccfb"/><rect x="338.69" y="123.38" width="6.3" height="6.3" fill="#b40426"/><rect x="347.92" y="123.38" width="6.3" height="6.3" fill="#b40426"/><rect x="357.14" y="123.38" width="6.3" height="6.3" fill="#f6bfa6"/><rect x="366.36" y="123.38" width="6.3" height="6.3" fill="#f08a6c"/><rect x="375.58" y="123.38" width="6.3" height="6.3" fill="#e26952"/><rect x="384.80" y="123.38" width="6.3" height="6.3" fill="#b40426"/><rect x="394.03" y="123.38" width="6.3" height="6.3" fill="#b40426"/><rect x="403.25" y="123.38" width="6.3" height="6.3" fill="#e26952"/><rect x="412.47" y="123.38" width="6.3" height="6.3" fill="#c9d7f0"/><rect x="421.69" y="123.38" width="6.3" height="6.3" fill="#b40426"/></g>
<g><polygon points="258.85,177.60 256.83,183.82 250.29,183.82 255.58,187.66 253.56,193.88 258.85,190.04 264.14,193.88 262.12,187.66 267.41,183.82 260.87,183.82" fill="#000" stroke="#000" stroke-width="1.2" stroke-linejoin="round"/><polygon points="258.85,71.40 256.83,77.62 250.29,77.62 255.58,81.46 253.56,87.68 258.85,83.84 264.14,87.68 262.12,81.46 267.41,77.62 260.87,77.62" fill="#000" stroke="#000" stroke-width="1.2" stroke-linejoin="round"/><polygon points="258.85,283.80 256.83,290.02 250.29,290.02 255.58,293.86 253.56,300.08 258.85,296.24 264.14,300.08 262.12,293.86 267.41,290.02 260.87,290.02" fill="#000" stroke="#000" stroke-width="1.2" stroke-linejoin="round"/><polygon points="159.89,124.50 157.87,130.72 151.33,130.72 156.62,134.56 154.60,140.78 159.89,136.94 165.18,140.78 163.16,134.56 168.45,130.72 161.91,130.72" fill="#000" stroke="#000" stroke-width="1.2" stroke-linejoin="round"/><polygon points="357.81,124.50 355.79,130.72 349.25,130.72 354.54,134.56 352.52,140.78 357.81,136.94 363.10,140.78 361.08,134.56 366.37,130.72 359.83,130.72" fill="#000" stroke="#000" stroke-width="1.2" stroke-linejoin="round"/><polygon points="159.89,230.70 157.87,236.92 151.33,236.92 156.62,240.76 154.60,246.98 159.89,243.14 165.18,246.98 163.16,240.76 168.45,236.92 161.91,236.92" fill="#000" stroke="#000" stroke-width="1.2" stroke-linejoin="round"/><polygon points="357.81,230.70 355.79,236.92 349.25,236.92 354.54,240.76 352.52,246.98 357.81,243.14 363.10,246.98 361.08,240.76 366.37,236.92 359.83,236.92" fill="#000" stroke="#000" stroke-width="1.2" stroke-linejoin="round"/></g>
<rect x="73.55" y="14.55" width="370.84999999999997" height="344.34999999999997" fill="none" stroke="#000" stroke-width="1.1"/>
<g stroke="#000" stroke-width="1.1"><line x1="87.45" y1="358.9" x2="87.45" y2="363.5"/><line x1="173.15" y1="358.9" x2="173.15" y2="363.5"/><line x1="258.85" y1="358.9" x2="258.85" y2="363.5"/><line x1="344.55" y1="358.9" x2="344.55" y2="363.5"/><line x1="430.25" y1="358.9" x2="430.25" y2="363.5"/><line x1="68.95" y1="345.90" x2="73.55" y2="345.90"/><line x1="68.95" y1="306.07" x2="73.55" y2="306.07"/><line x1="68.95" y1="266.25" x2="73.55" y2="266.25"/><line x1="68.95" y1="226.42" x2="73.55" y2="226.42"/><line x1="68.95" y1="186.60" x2="73.55" y2="186.60"/><line x1="68.95" y1="146.77" x2="73.55" y2="146.77"/><line x1="68.95" y1="106.95" x2="73.55" y2="106.95"/><line x1="68.95" y1="67.12" x2="73.55" y2="67.12"/><line x1="68.95" y1="27.30" x2="73.55" y2="27.30"/><line x1="484.9" y1="358.80" x2="489.5" y2="358.80"/><line x1="484.9" y1="309.60" x2="489.5" y2="309.60"/><line x1="484.9" y1="260.40" x2="489.5" y2="260.40"/><line x1="484.9" y1="211.20" x2="489.5" y2="211.20"/><line x1="484.9" y1="162.00" x2="489.5" y2="162.00"/><line x1="484.9" y1="112.80" x2="489.5" y2="112.80"/><line x1="484.9" y1="63.60" x2="489.5" y2="63.60"/><line x1="484.9" y1="14.40" x2="489.5" y2="14.40"/></g>
<rect x="467.6" y="14.4" width="17.299999999999955" height="344.40000000000003" fill="url(#cb)" stroke="#000" stroke-width="1.1"/>
<g><text x="87.45" y="380.6" text-anchor="middle">0.0</text><text x="173.15" y="380.6" text-anchor="middle">0.5</text><text x="258.85" y="380.6" text-anchor="middle">1.0</text><text x="344.55" y="380.6" text-anchor="middle">1.5</text><text x="430.25" y="380.6" text-anchor="middle">2.0</text><text x="63.15" y="351.90" text-anchor="end">0.00</text><text x="63.15" y="312.07" text-anchor="end">0.25</text><text x="63.15" y="272.25" text-anchor="end">0.50</text><text x="63.15" y="232.42" text-anchor="end">0.75</text><text x="63.15" y="192.60" text-anchor="end">1.00</text><text x="63.15" y="152.77" text-anchor="end">1.25</text><text x="63.15" y="112.95" text-anchor="end">1.50</text><text x="63.15" y="73.12" text-anchor="end">1.75</text><text x="63.15" y="33.30" text-anchor="end">2.00</text><text x="494.0" y="364.80" text-anchor="start">0</text><text x="494.0" y="315.60" text-anchor="start">10</text><text x="494.0" y="266.40" text-anchor="start">20</text><text x="494.0" y="217.20" text-anchor="start">30</text><text x="494.0" y="168.00" text-anchor="start">40</text><text x="494.0" y="118.80" text-anchor="start">50</text><text x="494.0" y="69.60" text-anchor="start">60</text><text x="494.0" y="20.40" text-anchor="start">70</text></g>
<text x="258.7" y="402.6" text-anchor="middle" style="font-size:18px">x(km)</text>
<text transform="translate(20.8,187.4) rotate(-90)" text-anchor="middle" style="font-size:18px">y(km)</text>
<text transform="translate(529.6,184.8) rotate(90)" text-anchor="middle" style="font-size:15.6px">Height(m)</text>
</svg>
</body></html>
